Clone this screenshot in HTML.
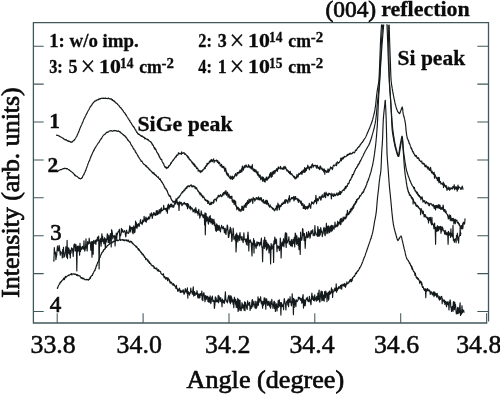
<!DOCTYPE html>
<html lang="en">
<head>
<meta charset="utf-8">
<title>(004) reflection</title>
<style>
html,body{margin:0;padding:0;background:#fff;}
body{width:500px;height:394px;overflow:hidden;font-family:'Liberation Serif', 'Times New Roman', serif;}
svg{display:block;}
svg text{font-family:'Liberation Serif', 'Times New Roman', serif;fill:#0b0b0b;stroke:#0b0b0b;stroke-width:0.4;}
svg text[font-weight=bold]{stroke-width:0.3;}
svg text.x{stroke-width:0.15;}
svg text.al{stroke-width:0.7;}
svg text.tl{stroke-width:0.5;}
.curves path{fill:none;stroke:#141a1b;stroke-width:1.15;stroke-linejoin:round;stroke-linecap:round;}
</style>
</head>
<body>
<svg width="500" height="394" viewBox="0 0 500 394">
<rect width="500" height="394" fill="#ffffff"/>
<g class="axes">
<path d="M33.4 323.0 L33.4 22.7 L488.5 22.7 L488.5 321.5 M32.8 323.0 L487.3 323.0" fill="none" stroke="#41585b" stroke-width="1.3"/>
<path d="M33.4 46.2 h10.3 M488.5 46.2 h-11.2 M33.4 84.1 h10.3 M488.5 84.1 h-11.2 M33.4 122.0 h10.3 M488.5 122.0 h-11.2 M33.4 159.9 h10.3 M488.5 159.9 h-11.2 M33.4 197.8 h10.3 M488.5 197.8 h-11.2 M33.4 235.7 h10.3 M488.5 235.7 h-11.2 M33.4 273.6 h10.3 M488.5 273.6 h-11.2 M33.4 311.5 h10.3 M488.5 311.5 h-11.2 M57.2 323.0 v-9.8 M143.1 323.0 v-9.8 M229.0 323.0 v-9.8 M314.8 323.0 v-9.8 M400.7 323.0 v-9.8 M486.6 323.0 v-9.8 " fill="none" stroke="#41585b" stroke-width="1.05"/>
</g>
<g class="curves">
<path d="M56.5 135.3 L56.9 135.1 L57.3 135.3 L57.7 135.5 L58.1 135.5 L58.5 135.8 L58.8 136.0 L59.2 135.8 L59.6 136.5 L60.0 136.6 L60.3 136.6 L60.7 136.9 L61.1 137.2 L61.4 137.3 L61.8 137.5 L62.1 137.5 L62.5 138.1 L62.9 138.3 L63.2 138.5 L63.6 138.4 L63.9 139.2 L64.3 139.2 L64.7 139.3 L65.0 139.9 L65.4 139.7 L65.8 139.6 L66.2 140.0 L66.6 139.9 L67.0 140.7 L67.4 140.6 L67.8 140.8 L68.2 141.3 L68.6 140.9 L69.0 141.5 L69.4 141.2 L69.8 141.6 L70.2 141.6 L70.6 142.2 L71.0 142.3 L71.3 141.9 L71.7 142.2 L72.0 141.9 L72.4 141.9 L72.7 141.4 L73.1 140.9 L73.4 140.6 L73.7 140.6 L74.0 140.7 L74.3 139.9 L74.6 139.4 L74.9 139.5 L75.1 138.9 L75.4 138.5 L75.6 138.2 L75.8 137.8 L76.0 137.4 L76.2 136.9 L76.4 136.9 L76.6 136.4 L76.8 136.3 L77.0 135.6 L77.2 134.9 L77.3 134.9 L77.5 134.9 L77.7 134.1 L77.9 133.6 L78.0 133.1 L78.2 132.8 L78.3 132.5 L78.5 131.9 L78.7 132.1 L78.8 131.3 L79.0 131.0 L79.1 130.9 L79.3 130.5 L79.4 129.7 L79.6 129.4 L79.8 129.1 L79.9 128.5 L80.1 127.8 L80.2 127.9 L80.4 127.5 L80.6 127.1 L80.8 126.4 L80.9 126.2 L81.1 125.7 L81.3 125.4 L81.4 125.3 L81.6 125.0 L81.8 124.4 L81.9 124.0 L82.1 123.6 L82.3 123.1 L82.4 122.7 L82.6 122.2 L82.8 121.9 L82.9 122.0 L83.1 121.4 L83.3 120.7 L83.4 120.3 L83.6 119.8 L83.8 119.7 L83.9 119.3 L84.1 118.6 L84.3 118.6 L84.5 118.0 L84.6 118.0 L84.8 117.4 L85.0 117.3 L85.2 116.5 L85.4 116.2 L85.6 115.9 L85.7 115.7 L85.9 115.2 L86.1 114.4 L86.3 114.4 L86.5 114.0 L86.7 113.5 L86.9 113.1 L87.1 113.2 L87.3 112.4 L87.5 111.9 L87.6 111.8 L87.8 111.3 L88.0 110.9 L88.2 110.7 L88.5 110.3 L88.7 109.9 L88.9 109.7 L89.1 109.2 L89.3 108.6 L89.5 108.3 L89.7 107.9 L89.9 107.7 L90.2 107.1 L90.4 106.6 L90.6 106.7 L90.9 106.0 L91.1 105.5 L91.4 105.7 L91.6 105.1 L91.9 105.0 L92.1 104.4 L92.4 103.9 L92.6 103.5 L92.9 103.3 L93.2 103.0 L93.4 102.6 L93.7 102.4 L94.0 101.8 L94.3 101.8 L94.6 101.1 L94.9 101.2 L95.2 101.2 L95.5 101.0 L95.9 101.0 L96.2 100.0 L96.5 100.4 L96.9 100.3 L97.3 100.1 L97.7 99.5 L98.0 99.6 L98.4 99.8 L98.9 98.8 L99.3 99.1 L99.7 99.1 L100.1 98.6 L100.5 98.8 L101.0 98.3 L101.4 98.3 L101.8 98.2 L102.2 98.4 L102.6 98.3 L103.1 98.5 L103.5 98.1 L103.9 98.3 L104.3 98.5 L104.7 98.5 L105.2 98.0 L105.6 98.5 L106.0 98.2 L106.5 98.5 L106.9 98.5 L107.3 98.7 L107.7 98.5 L108.1 98.0 L108.5 98.1 L108.9 98.7 L109.3 98.5 L109.7 98.9 L110.1 98.8 L110.5 98.7 L110.9 99.3 L111.2 99.0 L111.6 98.9 L112.0 100.2 L112.4 99.5 L112.7 100.4 L113.1 100.7 L113.4 100.8 L113.8 100.6 L114.1 101.6 L114.5 101.2 L114.8 101.5 L115.1 102.0 L115.4 102.5 L115.8 102.7 L116.1 103.1 L116.4 103.0 L116.7 103.4 L117.0 103.4 L117.3 103.9 L117.6 104.5 L117.9 104.5 L118.2 105.0 L118.5 105.1 L118.8 105.4 L119.0 105.9 L119.3 106.1 L119.6 106.7 L119.9 106.9 L120.2 107.6 L120.4 107.4 L120.7 107.7 L121.0 107.8 L121.2 108.4 L121.5 108.9 L121.8 108.9 L122.0 109.4 L122.3 109.9 L122.5 110.0 L122.8 110.3 L123.1 111.0 L123.3 111.1 L123.5 111.5 L123.8 112.1 L124.0 112.4 L124.3 112.4 L124.5 112.7 L124.8 113.2 L125.0 113.5 L125.2 113.3 L125.5 114.5 L125.7 114.6 L125.9 115.1 L126.2 114.9 L126.4 115.9 L126.6 115.8 L126.9 116.3 L127.1 116.3 L127.3 117.0 L127.5 117.3 L127.8 117.7 L128.0 118.2 L128.2 118.5 L128.4 119.1 L128.7 119.0 L128.9 119.2 L129.1 119.9 L129.3 120.4 L129.5 120.9 L129.8 121.2 L130.0 120.8 L130.2 121.7 L130.4 122.4 L130.7 122.4 L130.9 122.6 L131.1 123.1 L131.4 123.3 L131.6 123.9 L131.8 124.1 L132.0 124.9 L132.3 125.0 L132.5 125.0 L132.7 125.7 L132.9 126.2 L133.2 126.1 L133.4 126.5 L133.6 126.3 L133.9 127.6 L134.1 127.5 L134.3 127.4 L134.5 127.9 L134.8 128.7 L135.0 129.3 L135.2 129.5 L135.4 130.0 L135.6 129.9 L135.9 130.2 L136.1 131.2 L136.3 131.5 L136.5 131.7 L136.8 132.4 L137.0 132.1 L137.3 132.6 L137.5 133.3 L137.8 133.8 L138.1 133.6 L138.4 134.4 L138.7 133.9 L139.0 134.5 L139.3 134.6 L139.7 134.4 L140.0 135.2 L140.4 135.6 L140.7 135.5 L141.1 135.7 L141.5 136.4 L141.8 135.8 L142.2 135.9 L142.6 136.4 L143.0 136.5 L143.3 137.5 L143.7 137.4 L144.0 137.2 L144.4 137.6 L144.8 138.9 L145.1 138.0 L145.5 138.2 L145.9 138.7 L146.2 139.1 L146.6 139.2 L147.0 139.0 L147.3 139.1 L147.7 139.9 L148.1 139.9 L148.4 139.6 L148.8 140.8 L149.1 140.9 L149.4 140.8 L149.7 141.1 L150.0 141.5 L150.3 141.5 L150.6 141.5 L150.9 142.4 L151.1 142.1 L151.4 143.1 L151.6 142.8 L151.9 143.6 L152.1 143.9 L152.4 145.0 L152.6 144.3 L152.8 144.6 L153.0 145.2 L153.3 145.4 L153.5 146.0 L153.7 146.7 L153.9 147.2 L154.2 147.9 L154.4 147.3 L154.6 148.9 L154.8 149.1 L155.0 148.6 L155.2 148.2 L155.5 149.4 L155.7 149.8 L155.9 149.3 L156.1 150.5 L156.3 150.8 L156.5 151.0 L156.7 151.9 L156.9 152.4 L157.1 152.2 L157.3 152.8 L157.5 152.9 L157.7 153.2 L157.9 153.9 L158.1 154.4 L158.3 154.4 L158.5 154.1 L158.7 155.5 L158.9 155.1 L159.1 156.1 L159.3 157.1 L159.5 156.8 L159.7 156.7 L159.9 157.0 L160.1 158.3 L160.3 158.2 L160.5 158.8 L160.8 159.4 L161.0 159.3 L161.2 159.6 L161.4 159.7 L161.6 159.2 L161.8 160.2 L162.0 161.2 L162.2 161.5 L162.4 162.1 L162.7 162.2 L162.9 162.7 L163.1 163.4 L163.3 163.2 L163.5 163.9 L163.8 163.8 L164.0 165.3 L164.2 165.4 L164.5 166.0 L164.7 166.9 L164.9 167.1 L165.2 166.9 L165.4 167.6 L165.7 166.9 L165.9 167.9 L166.2 168.0 L166.4 167.3 L166.7 168.6 L167.0 167.6 L167.3 168.0 L167.6 167.3 L168.0 167.7 L168.3 167.5 L168.6 166.2 L169.0 165.5 L169.3 165.8 L169.6 165.8 L169.9 164.9 L170.2 164.5 L170.4 164.7 L170.7 162.9 L170.9 163.5 L171.2 162.8 L171.4 163.2 L171.6 162.4 L171.8 161.9 L172.0 161.9 L172.3 161.0 L172.5 161.3 L172.7 160.6 L172.9 160.4 L173.1 159.9 L173.4 160.3 L173.6 159.5 L173.9 159.4 L174.1 159.1 L174.4 158.1 L174.6 158.4 L174.9 157.9 L175.2 157.6 L175.5 156.8 L175.7 156.4 L176.0 156.7 L176.3 157.0 L176.6 155.2 L176.9 155.5 L177.2 154.8 L177.5 155.1 L177.8 154.7 L178.1 154.8 L178.5 152.7 L178.8 153.7 L179.2 153.4 L179.5 153.8 L180.0 153.4 L180.4 153.3 L180.8 153.9 L181.3 154.5 L181.7 151.9 L182.2 153.2 L182.6 153.5 L183.0 153.3 L183.4 153.1 L183.8 152.6 L184.2 152.8 L184.5 153.9 L184.8 154.3 L185.2 154.0 L185.5 153.8 L185.8 154.6 L186.1 154.8 L186.4 155.6 L186.7 155.7 L187.0 155.6 L187.3 156.4 L187.6 155.9 L187.8 157.4 L188.1 157.9 L188.4 156.9 L188.6 158.1 L188.9 157.7 L189.1 159.2 L189.4 159.4 L189.6 159.1 L189.9 160.2 L190.2 159.7 L190.4 159.9 L190.7 160.2 L190.9 160.8 L191.2 161.0 L191.5 161.7 L191.7 161.5 L192.0 162.7 L192.3 163.2 L192.5 162.6 L192.8 162.3 L193.1 164.0 L193.3 164.5 L193.6 164.1 L193.9 163.7 L194.1 165.0 L194.4 166.1 L194.7 164.3 L195.0 166.1 L195.2 165.9 L195.5 165.9 L195.8 167.0 L196.0 166.2 L196.3 167.6 L196.6 168.6 L196.9 168.3 L197.1 168.0 L197.4 167.9 L197.7 168.6 L197.9 168.6 L198.2 171.2 L198.5 170.4 L198.8 170.2 L199.0 170.3 L199.3 170.6 L199.6 171.2 L199.9 170.7 L200.3 172.6 L200.6 170.9 L201.0 170.7 L201.3 171.3 L201.7 171.8 L202.1 171.5 L202.5 169.9 L202.9 170.2 L203.2 169.8 L203.6 169.8 L203.9 169.3 L204.2 168.1 L204.5 167.6 L204.7 168.4 L205.0 167.0 L205.2 168.6 L205.4 167.2 L205.7 166.0 L205.9 166.2 L206.2 165.7 L206.4 165.6 L206.7 166.2 L206.9 163.9 L207.2 163.2 L207.5 164.7 L207.8 164.0 L208.0 163.9 L208.3 163.8 L208.6 163.0 L208.9 163.5 L209.2 161.7 L209.6 162.2 L209.9 161.2 L210.2 160.6 L210.5 162.0 L210.9 161.7 L211.2 159.3 L211.6 159.9 L212.0 161.0 L212.4 161.6 L212.8 159.8 L213.2 160.2 L213.6 158.9 L214.1 162.6 L214.5 160.5 L214.9 160.9 L215.3 160.7 L215.7 161.0 L216.0 160.7 L216.4 159.9 L216.7 161.2 L217.0 160.8 L217.4 162.3 L217.7 160.5 L218.0 161.0 L218.3 162.6 L218.6 163.7 L219.0 162.8 L219.3 162.2 L219.6 163.2 L219.9 163.1 L220.2 166.0 L220.5 165.2 L220.9 165.8 L221.2 165.1 L221.5 164.4 L221.8 166.6 L222.1 167.5 L222.4 166.5 L222.7 166.1 L223.0 167.7 L223.3 166.3 L223.6 168.0 L223.8 166.6 L224.0 166.6 L224.3 168.8 L224.5 168.9 L224.7 171.1 L224.9 168.8 L225.1 169.6 L225.3 168.5 L225.5 168.0 L225.7 168.5 L225.9 171.6 L226.1 170.0 L226.3 173.2 L226.6 173.9 L226.8 172.1 L227.1 175.0 L227.3 173.6 L227.5 175.2 L227.8 173.9 L228.0 175.8 L228.3 173.8 L228.5 176.3 L228.8 175.3 L229.0 176.1 L229.3 177.5 L229.6 177.2 L229.8 177.2 L230.1 178.5 L230.4 178.8 L230.7 176.1 L231.0 178.7 L231.3 178.9 L231.6 177.0 L231.9 178.4 L232.3 176.0 L232.6 179.4 L233.0 177.0 L233.4 177.0 L233.7 178.4 L234.1 176.3 L234.5 177.0 L234.9 174.5 L235.2 174.9 L235.6 173.5 L235.9 174.8 L236.2 176.2 L236.6 174.8 L236.9 175.4 L237.2 172.6 L237.5 172.5 L237.7 172.7 L238.0 173.8 L238.3 173.2 L238.6 172.4 L238.9 172.9 L239.2 171.5 L239.5 171.4 L239.7 172.8 L240.0 170.1 L240.3 170.8 L240.7 172.4 L241.0 170.2 L241.3 170.7 L241.6 168.7 L242.0 171.8 L242.3 166.0 L242.7 167.1 L243.0 167.0 L243.4 170.2 L243.8 168.3 L244.1 167.2 L244.5 165.7 L244.9 167.7 L245.2 167.2 L245.6 166.0 L246.0 164.9 L246.4 165.3 L246.8 167.1 L247.2 167.3 L247.6 167.0 L248.1 166.7 L248.5 164.7 L248.9 167.2 L249.3 165.8 L249.8 167.4 L250.2 168.0 L250.5 166.6 L250.9 166.3 L251.3 169.1 L251.6 168.5 L252.0 167.4 L252.3 164.5 L252.6 168.7 L253.0 169.9 L253.3 170.8 L253.6 168.8 L253.9 169.1 L254.2 169.7 L254.5 171.7 L254.9 169.3 L255.2 171.0 L255.5 170.2 L255.8 172.1 L256.1 170.0 L256.4 172.8 L256.7 171.9 L257.0 172.6 L257.3 173.9 L257.6 175.0 L257.9 171.6 L258.2 175.4 L258.4 175.2 L258.7 174.3 L259.0 176.9 L259.3 175.6 L259.6 177.3 L259.9 175.1 L260.2 175.1 L260.5 178.2 L260.8 179.8 L261.1 178.1 L261.4 178.8 L261.7 177.4 L262.0 176.7 L262.3 178.5 L262.6 181.1 L262.9 177.0 L263.2 179.1 L263.5 177.5 L263.8 180.4 L264.2 181.5 L264.5 178.8 L264.8 180.0 L265.1 182.2 L265.4 180.2 L265.7 178.5 L266.1 178.2 L266.4 177.0 L266.7 180.3 L267.1 178.0 L267.4 180.0 L267.7 179.4 L268.1 177.1 L268.4 176.9 L268.7 178.3 L269.0 177.2 L269.3 177.1 L269.6 174.2 L269.9 177.3 L270.2 174.7 L270.5 172.5 L270.8 174.4 L271.1 175.4 L271.4 177.3 L271.7 173.8 L272.0 172.2 L272.2 176.5 L272.5 173.6 L272.8 172.7 L273.1 171.3 L273.4 171.2 L273.8 174.2 L274.1 171.6 L274.4 171.0 L274.7 170.7 L275.0 173.1 L275.4 170.0 L275.7 171.3 L276.0 170.5 L276.4 170.2 L276.7 168.5 L277.1 170.2 L277.4 171.3 L277.8 168.9 L278.1 167.6 L278.5 166.9 L278.9 168.8 L279.3 168.1 L279.7 168.2 L280.1 168.3 L280.5 166.3 L281.0 169.2 L281.4 168.5 L281.8 168.0 L282.3 168.4 L282.7 169.3 L283.1 168.1 L283.5 166.9 L283.9 169.5 L284.3 167.4 L284.6 167.1 L285.0 166.2 L285.3 168.4 L285.7 167.3 L286.0 168.2 L286.3 169.8 L286.7 169.6 L287.0 171.2 L287.3 170.6 L287.6 170.0 L287.9 170.5 L288.2 170.6 L288.5 172.4 L288.9 171.9 L289.2 171.6 L289.5 173.6 L289.8 172.9 L290.1 172.4 L290.3 171.3 L290.6 174.2 L290.9 174.3 L291.2 174.3 L291.5 174.0 L291.8 173.7 L292.1 174.8 L292.5 175.7 L292.8 175.6 L293.1 175.9 L293.4 175.9 L293.8 177.3 L294.1 177.4 L294.4 176.4 L294.8 178.6 L295.1 178.8 L295.4 178.9 L295.8 177.6 L296.1 177.4 L296.4 176.0 L296.7 178.3 L297.0 174.3 L297.4 176.3 L297.7 176.0 L298.0 177.2 L298.3 175.8 L298.7 174.1 L299.0 173.2 L299.3 173.7 L299.6 174.5 L299.9 174.1 L300.2 173.5 L300.6 172.6 L300.9 172.9 L301.2 174.2 L301.5 171.2 L301.8 172.4 L302.1 174.2 L302.4 172.5 L302.7 170.8 L303.0 172.0 L303.3 169.9 L303.6 170.6 L303.9 172.4 L304.3 172.5 L304.6 167.5 L304.9 170.5 L305.3 171.9 L305.6 168.4 L306.0 169.2 L306.3 170.6 L306.7 167.7 L307.1 168.7 L307.4 167.8 L307.8 165.1 L308.2 167.9 L308.6 167.1 L309.0 168.4 L309.4 169.8 L309.8 167.8 L310.1 166.3 L310.5 167.4 L310.9 167.0 L311.4 168.0 L311.8 164.7 L312.2 165.1 L312.6 163.9 L313.1 167.3 L313.5 166.5 L313.9 165.6 L314.3 165.5 L314.8 165.7 L315.2 165.2 L315.6 166.0 L316.0 165.7 L316.4 168.2 L316.8 166.9 L317.2 165.4 L317.6 165.9 L318.0 168.4 L318.4 167.6 L318.8 167.6 L319.1 168.4 L319.5 169.7 L319.9 166.3 L320.3 167.1 L320.6 166.0 L321.0 169.2 L321.4 168.2 L321.8 168.0 L322.1 168.2 L322.5 170.3 L322.9 169.5 L323.3 169.3 L323.7 171.9 L324.0 169.1 L324.4 169.0 L324.8 174.3 L325.1 170.6 L325.5 170.6 L325.9 170.4 L326.2 171.3 L326.6 172.5 L326.9 172.5 L327.3 172.1 L327.6 170.8 L328.0 168.9 L328.3 171.0 L328.6 172.3 L329.0 171.4 L329.3 169.4 L329.6 170.4 L330.0 168.5 L330.3 168.7 L330.6 166.9 L331.0 167.9 L331.3 168.2 L331.7 167.6 L332.0 168.5 L332.3 169.6 L332.7 168.6 L333.0 166.4 L333.3 165.6 L333.7 165.5 L334.0 164.8 L334.3 165.8 L334.6 165.9 L335.0 165.4 L335.3 165.1 L335.6 164.8 L335.9 164.2 L336.2 163.2 L336.5 165.7 L336.8 164.6 L337.1 162.2 L337.4 161.9 L337.7 162.0 L338.0 162.4 L338.3 163.3 L338.7 162.8 L339.0 162.5 L339.3 162.3 L339.6 162.0 L339.9 161.3 L340.2 160.8 L340.5 159.9 L340.8 158.1 L341.1 159.3 L341.4 160.9 L341.7 158.4 L342.1 158.0 L342.4 159.2 L342.7 158.1 L343.0 157.3 L343.3 158.8 L343.6 157.7 L344.0 157.6 L344.3 156.2 L344.7 156.9 L345.0 156.6 L345.4 156.7 L345.7 156.8 L346.1 156.6 L346.5 155.6 L346.9 155.9 L347.3 154.3 L347.7 155.5 L348.0 155.3 L348.4 154.4 L348.8 154.0 L349.2 154.3 L349.6 153.4 L350.0 154.2 L350.4 154.0 L350.7 153.0 L351.1 153.5 L351.5 153.9 L351.9 153.7 L352.3 153.5 L352.7 152.6 L353.0 152.3 L353.4 152.1 L353.8 152.4 L354.1 153.1 L354.5 152.3 L354.8 152.2 L355.1 151.8 L355.4 150.1 L355.7 150.5 L356.0 150.0 L356.2 150.5 L356.5 150.3 L356.8 149.0 L357.0 148.9 L357.3 148.8 L357.5 148.0 L357.8 147.6 L358.1 147.3 L358.3 147.6 L358.6 146.6 L358.9 147.0 L359.1 146.3 L359.4 146.2 L359.7 146.1 L359.9 145.1 L360.2 144.7 L360.5 144.8 L360.7 144.0 L361.0 143.7 L361.3 143.6 L361.5 143.3 L361.8 142.6 L362.0 142.5 L362.3 142.4 L362.5 142.3 L362.8 141.2 L363.0 141.6 L363.2 141.1 L363.5 140.3 L363.7 139.9 L363.9 140.0 L364.1 139.4 L364.3 139.2 L364.6 138.9 L364.8 138.3 L365.0 138.1 L365.2 137.8 L365.4 137.4 L365.6 137.2 L365.8 136.8 L366.0 136.2 L366.1 135.8 L366.3 135.8 L366.5 135.2 L366.7 134.7 L366.9 134.1 L367.1 134.0 L367.2 133.4 L367.4 133.1 L367.6 132.5 L367.8 132.3 L367.9 132.0 L368.1 131.4 L368.3 131.1 L368.4 130.8 L368.6 130.2 L368.8 129.9 L368.9 129.5 L369.1 129.1 L369.2 129.0 L369.4 128.3 L369.6 128.3 L369.7 127.9 L369.9 127.1 L370.0 127.0 L370.2 126.5 L370.3 126.0 L370.5 125.7 L370.6 125.3 L370.8 125.1 L370.9 124.8 L371.1 124.0 L371.2 123.7 L371.4 123.5 L371.5 123.2 L371.7 122.2 L371.8 122.4 L371.9 121.8 L372.1 121.7 L372.2 120.9 L372.3 120.5 L372.4 120.2 L372.6 120.0 L372.7 119.4 L372.8 118.6 L372.9 118.7 L373.0 117.9 L373.1 117.6 L373.2 117.2 L373.3 116.7 L373.4 116.4 L373.5 116.0 L373.6 115.7 L373.7 115.3 L373.8 114.9 L373.9 114.3 L374.0 114.1 L374.1 113.9 L374.2 113.5 L374.3 112.9 L374.4 112.6 L374.5 112.2 L374.6 111.9 L374.6 111.5 L374.7 110.8 L374.8 110.4 L374.9 110.3 L374.9 109.9 L375.0 109.4 L375.1 108.3 L375.1 108.3 L375.2 107.3 L375.3 107.6 L375.3 107.1 L375.4 106.7 L375.4 106.2 L375.5 106.1 L375.6 105.4 L375.6 105.2 L375.7 104.7 L375.7 104.2 L375.8 103.8 L375.8 103.4 L375.8 102.7 L375.9 102.6 L375.9 102.2 L376.0 101.6 L376.0 101.4 L376.1 101.0 L376.1 100.2 L376.1 100.0 L376.2 99.5 L376.2 99.0 L376.3 98.8 L376.3 98.2 L376.4 97.8 L376.4 97.5 L376.4 97.1 L376.5 96.7 L376.5 96.6 L376.6 95.7 L376.6 95.4 L376.7 94.8 L376.7 94.6 L376.8 94.3 L376.8 93.9 L376.9 93.2 L376.9 92.8 L377.0 92.7 L377.0 92.0 L377.1 91.8 L377.1 91.0 L377.2 91.1 L377.3 90.6 L377.3 90.1 L377.4 89.4 L377.5 89.1 L377.6 88.8 L377.6 88.4 L377.7 87.9 L377.8 87.4 L377.9 87.1 L377.9 86.9 L378.0 85.9 L378.1 85.6 L378.2 85.1 L378.2 84.9 L378.3 84.3 L378.4 84.3 L378.4 83.8 L378.5 83.3 L378.6 82.8 L378.6 82.5 L378.7 82.1 L378.7 81.7 L378.8 81.1 L378.8 81.0 L378.9 80.2 L378.9 80.2 L378.9 79.0 L379.0 79.1 L379.0 78.5 L379.0 78.5 L379.0 77.6 L379.1 77.8 L379.1 76.8 L379.1 77.0 L379.1 76.3 L379.2 75.8 L379.2 75.5 L379.2 75.4 L379.2 74.7 L379.2 73.7 L379.3 73.9 L379.3 73.3 L379.3 72.6 L379.3 72.6 L379.3 71.8 L379.4 71.7 L379.4 71.2 L379.4 70.7 L379.4 70.5 L379.4 69.8 L379.4 69.6 L379.5 69.0 L379.5 68.6 L379.5 68.6 L379.5 67.9 L379.5 67.2 L379.5 67.0 L379.6 66.4 L379.6 66.2 L379.6 65.8 L379.6 65.3 L379.6 64.9 L379.6 64.4 L379.6 64.1 L379.7 63.8 L379.7 63.1 L379.7 62.8 L379.7 62.4 L379.7 62.2 L379.7 61.7 L379.8 61.0 L379.8 60.7 L379.8 60.0 L379.8 59.7 L379.8 59.4 L379.8 59.1 L379.9 58.8 L379.9 58.1 L379.9 57.5 L379.9 57.4 L379.9 56.9 L379.9 56.6 L380.0 56.1 L380.0 55.8 L380.0 55.3 L380.0 55.0 L380.0 54.3 L380.0 54.2 L380.1 53.5 L380.1 53.1 L380.1 53.1 L380.1 52.4 L380.1 51.6 L380.1 51.7 L380.1 51.2 L380.2 50.8 L380.2 50.2 L380.2 49.8 L380.2 49.3 L380.2 48.8 L380.2 48.8 L380.3 48.0 L380.3 47.6 L380.3 47.2 L380.3 47.2 L380.3 46.6 L380.3 45.9 L380.4 45.6 L380.4 45.2 L380.4 44.9 L380.4 44.0 L380.4 44.1 L380.4 43.4 L380.5 42.9 L380.5 42.6 L380.5 42.4 L380.5 42.1 L380.5 41.4 L380.6 41.0 L380.6 40.4 L380.6 40.2 L380.6 39.8 L380.6 39.0 L380.7 38.8 L380.7 38.6 L380.7 37.7 L380.7 37.5 L380.7 37.3 L380.8 36.4 L380.8 36.3 L380.8 35.9 L380.8 35.7 L380.9 34.8 L380.9 34.9 L380.9 34.3 L380.9 34.0 L381.0 33.6 L381.0 33.0 L381.0 32.6 L381.0 31.8 L381.1 31.5 L381.1 31.1 L381.1 30.8 L381.1 30.6 L381.2 29.7 L381.2 29.6 L381.2 28.9 L381.2 28.5 L381.3 28.6 L381.3 28.0 L381.3 27.8 L381.4 27.3 L381.4 26.5 L381.4 25.9 L381.4 26.2 L381.5 25.3 L381.5 24.8"/>
<path d="M389.2 25.1 L389.2 25.4 L389.2 25.7 L389.2 26.2 L389.2 26.7 L389.2 27.1 L389.3 27.7 L389.3 27.9 L389.3 28.3 L389.3 28.9 L389.3 29.3 L389.3 29.8 L389.3 30.0 L389.3 30.5 L389.3 30.7 L389.4 31.6 L389.4 31.5 L389.4 32.2 L389.4 32.4 L389.4 33.1 L389.4 33.6 L389.4 33.5 L389.4 34.2 L389.4 34.3 L389.5 35.4 L389.5 35.4 L389.5 35.6 L389.5 36.2 L389.5 37.0 L389.5 37.5 L389.5 37.9 L389.5 37.9 L389.6 38.4 L389.6 39.2 L389.6 39.2 L389.6 39.7 L389.6 40.0 L389.6 40.3 L389.6 41.2 L389.6 41.5 L389.7 41.9 L389.7 42.4 L389.7 42.9 L389.7 43.4 L389.7 43.5 L389.7 43.9 L389.7 44.2 L389.8 45.0 L389.8 45.1 L389.8 45.3 L389.8 46.0 L389.8 46.5 L389.8 47.0 L389.8 47.5 L389.9 47.6 L389.9 48.0 L389.9 48.5 L389.9 48.7 L389.9 49.4 L389.9 49.9 L389.9 50.3 L390.0 50.3 L390.0 50.9 L390.0 51.8 L390.0 51.7 L390.0 52.5 L390.0 52.9 L390.0 53.1 L390.1 53.4 L390.1 54.1 L390.1 54.3 L390.1 54.8 L390.1 55.3 L390.1 55.6 L390.2 56.1 L390.2 56.5 L390.2 56.7 L390.2 57.4 L390.2 57.7 L390.2 57.9 L390.3 58.6 L390.3 59.0 L390.3 59.4 L390.3 59.5 L390.3 60.5 L390.3 60.9 L390.3 61.3 L390.4 61.7 L390.4 61.8 L390.4 62.5 L390.4 62.7 L390.4 63.7 L390.4 63.6 L390.4 64.3 L390.5 64.2 L390.5 64.7 L390.5 65.3 L390.5 66.0 L390.5 66.4 L390.5 66.7 L390.5 66.7 L390.5 67.7 L390.6 67.7 L390.6 68.7 L390.6 69.1 L390.6 69.4 L390.6 69.8 L390.6 69.8 L390.6 71.0 L390.7 70.9 L390.7 71.5 L390.7 71.5 L390.7 72.1 L390.7 72.3 L390.7 72.9 L390.8 73.4 L390.8 73.9 L390.8 74.5 L390.8 74.8 L390.8 75.1 L390.8 75.5 L390.9 76.3 L390.9 76.2 L390.9 77.0 L390.9 76.8 L391.0 77.4 L391.0 78.1 L391.0 78.4 L391.0 79.5 L391.1 79.8 L391.1 79.4 L391.1 79.9 L391.1 80.5 L391.2 81.3 L391.2 81.6 L391.3 81.9 L391.3 81.9 L391.3 82.5 L391.4 82.5 L391.4 83.1 L391.5 84.0 L391.6 84.5 L391.6 84.4 L391.7 85.1 L391.7 85.9 L391.8 86.0 L391.9 86.3 L392.0 86.9 L392.0 87.3 L392.1 87.6 L392.2 87.9 L392.2 88.4 L392.3 88.9 L392.4 89.2 L392.5 90.0 L392.5 90.3 L392.6 90.8 L392.7 91.4 L392.8 91.7 L392.8 92.1 L392.9 92.3 L393.0 92.6 L393.0 93.5 L393.1 93.3 L393.2 93.7 L393.3 94.1 L393.3 94.7 L393.4 95.2 L393.5 95.7 L393.6 95.9 L393.6 96.0 L393.7 96.8 L393.8 97.4 L393.9 97.6 L394.0 98.0 L394.0 98.5 L394.1 99.1 L394.2 99.2 L394.3 99.4 L394.4 99.9 L394.5 100.4 L394.6 100.5 L394.7 101.5 L394.7 101.5 L394.8 102.2 L394.9 102.6 L395.0 102.9 L395.1 103.7 L395.2 103.6 L395.3 104.0 L395.4 104.6 L395.5 105.1 L395.6 105.4 L395.8 105.6 L395.9 106.4 L396.0 106.8 L396.1 107.5 L396.2 107.4 L396.3 108.0 L396.4 108.2 L396.6 108.4 L396.7 109.2 L396.8 109.7 L397.0 109.7 L397.1 110.2 L397.3 110.4 L397.5 111.3 L397.6 111.3 L397.8 111.9 L398.1 111.9 L398.4 112.5 L398.7 112.8 L399.1 112.7 L399.4 113.4 L399.6 113.6 L399.8 113.0 L400.0 113.1 L400.2 112.7 L400.3 112.1 L400.4 111.8 L400.6 110.9 L400.7 110.9 L400.9 110.6 L401.0 109.7 L401.2 109.5 L401.4 109.3 L401.5 108.5 L401.7 107.9 L401.8 107.4 L402.0 107.3 L402.1 107.2 L402.2 107.4 L402.3 107.1 L402.4 107.8 L402.5 107.8 L402.5 108.4 L402.6 108.5 L402.7 108.8 L402.7 109.5 L402.8 109.9 L402.8 110.6 L402.9 111.4 L403.0 112.0 L403.0 112.4 L403.1 112.7 L403.2 113.3 L403.2 114.0 L403.3 114.5 L403.4 114.6 L403.5 115.0 L403.6 115.3 L403.7 115.9 L403.8 116.5 L403.9 116.1 L404.0 117.2 L404.2 117.4 L404.3 117.4 L404.4 118.4 L404.5 118.7 L404.6 119.2 L404.7 119.3 L404.8 120.4 L404.9 120.4 L405.0 120.7 L405.0 121.5 L405.1 121.8 L405.2 122.2 L405.2 122.7 L405.3 122.4 L405.4 123.7 L405.4 123.6 L405.5 124.2 L405.5 124.7 L405.6 124.8 L405.6 125.4 L405.7 126.0 L405.7 126.2 L405.7 126.8 L405.8 126.7 L405.8 127.2 L405.9 127.6 L405.9 128.4 L405.9 129.7 L406.0 129.2 L406.0 129.5 L406.1 130.0 L406.1 130.7 L406.1 131.0 L406.2 131.0 L406.2 131.9 L406.3 132.1 L406.3 132.7 L406.4 132.4 L406.4 132.9 L406.5 133.9 L406.5 133.7 L406.6 134.7 L406.7 135.1 L406.7 135.5 L406.8 135.9 L406.9 136.3 L407.0 136.8 L407.1 136.9 L407.2 137.4 L407.3 138.7 L407.5 138.6 L407.6 138.8 L407.8 139.2 L407.9 139.2 L408.0 139.9 L408.2 140.2 L408.3 141.0 L408.5 140.7 L408.6 140.6 L408.8 141.6 L408.9 142.5 L409.1 143.5 L409.2 143.4 L409.4 143.0 L409.5 143.7 L409.7 143.8 L409.8 144.5 L410.0 144.6 L410.1 144.7 L410.3 145.9 L410.4 146.2 L410.6 146.5 L410.8 147.1 L410.9 148.2 L411.1 147.7 L411.3 147.9 L411.4 148.8 L411.6 148.1 L411.8 149.6 L411.9 149.3 L412.1 149.6 L412.3 150.4 L412.5 151.6 L412.6 150.8 L412.8 152.0 L413.0 152.1 L413.2 151.6 L413.4 153.2 L413.6 152.7 L413.8 152.7 L414.0 153.4 L414.2 153.8 L414.4 154.8 L414.6 154.4 L414.9 156.0 L415.1 155.6 L415.4 155.4 L415.7 155.7 L415.9 156.6 L416.2 155.6 L416.5 155.8 L416.8 156.9 L417.1 158.1 L417.4 158.2 L417.7 158.4 L418.0 158.5 L418.3 157.5 L418.6 159.0 L418.9 158.3 L419.2 160.4 L419.5 160.1 L419.8 160.3 L420.1 161.0 L420.4 161.2 L420.7 161.4 L421.1 161.8 L421.4 161.3 L421.7 161.0 L422.0 162.6 L422.3 163.8 L422.7 163.7 L423.0 163.0 L423.3 163.9 L423.6 163.3 L423.9 164.3 L424.3 163.7 L424.6 164.7 L424.9 166.7 L425.2 165.8 L425.5 166.8 L425.8 165.0 L426.1 165.3 L426.4 166.2 L426.7 167.1 L427.0 166.6 L427.4 168.1 L427.7 166.9 L428.0 169.1 L428.3 169.0 L428.6 167.1 L428.9 169.2 L429.1 168.7 L429.4 170.3 L429.7 168.9 L430.0 170.2 L430.3 170.7 L430.5 167.4 L430.8 168.7 L431.1 171.3 L431.3 171.3 L431.6 172.9 L431.9 172.4 L432.1 171.0 L432.4 173.2 L432.6 172.2 L432.9 173.2 L433.1 173.2 L433.4 174.5 L433.7 172.7 L433.9 173.4 L434.2 172.3 L434.5 178.1 L434.7 174.5 L435.0 175.0 L435.3 174.9 L435.5 175.9 L435.8 176.5 L436.1 178.2 L436.3 177.9 L436.6 178.5 L436.9 177.6 L437.1 178.6 L437.4 180.7 L437.7 179.3 L438.0 180.1 L438.2 177.2 L438.5 181.1 L438.8 181.0 L439.0 182.8 L439.3 177.4 L439.6 181.7 L439.9 181.8 L440.2 182.4 L440.5 181.6 L440.7 183.2 L441.0 184.2 L441.3 183.5 L441.6 183.3 L441.9 183.7 L442.2 183.7 L442.6 184.6 L442.9 183.7 L443.2 182.0 L443.5 187.5 L443.8 183.0 L444.2 185.8 L444.5 184.3 L444.8 186.2 L445.2 185.4 L445.5 187.2 L445.9 186.1 L446.2 185.6 L446.6 188.5 L447.0 190.4 L447.3 189.0 L447.7 188.7 L448.1 186.9 L448.4 188.6 L448.8 189.5 L449.2 187.6 L449.6 190.3 L450.0 188.6 L450.4 189.2 L450.8 187.7 L451.2 187.6 L451.6 188.8 L452.1 189.0 L452.5 188.9 L452.9 186.4 L453.4 186.8 L453.8 188.0 L454.2 184.7 L454.6 189.7 L455.1 188.4 L455.5 187.9 L455.9 186.5 L456.3 189.2 L456.8 187.2 L457.2 191.1 L457.6 188.4 L458.0 185.1 L458.4 189.1 L458.8 186.9 L459.3 187.0 L459.7 187.5 L460.1 187.8 L460.5 188.5 L460.9 189.5 L461.3 189.1 L461.8 187.1 L462.2 186.1 L462.6 187.2 L463.0 189.3"/>
<path d="M57.3 171.6 L57.7 171.6 L58.0 170.8 L58.4 170.8 L58.7 170.5 L59.1 170.3 L59.5 170.2 L59.9 169.9 L60.2 169.7 L60.6 169.5 L61.0 169.6 L61.4 169.6 L61.8 169.5 L62.2 169.0 L62.6 168.8 L63.0 168.8 L63.5 168.6 L63.9 168.8 L64.3 168.4 L64.7 168.5 L65.1 168.2 L65.5 168.4 L65.9 168.6 L66.3 168.9 L66.7 168.6 L67.1 169.0 L67.5 168.7 L67.9 169.1 L68.3 169.4 L68.6 169.7 L69.0 170.1 L69.4 170.3 L69.7 170.1 L70.1 170.7 L70.4 170.7 L70.8 171.5 L71.1 171.4 L71.4 171.7 L71.8 171.9 L72.1 172.2 L72.4 172.4 L72.7 172.6 L73.0 173.1 L73.3 173.3 L73.6 173.8 L73.9 173.9 L74.2 174.4 L74.5 174.4 L74.8 175.6 L75.1 175.0 L75.4 175.4 L75.7 175.9 L76.0 176.2 L76.3 176.1 L76.7 176.2 L77.1 176.5 L77.5 176.8 L77.9 177.2 L78.3 177.5 L78.6 178.0 L79.0 178.3 L79.4 178.1 L79.8 178.5 L80.1 178.7 L80.5 178.9 L80.8 178.6 L81.1 178.4 L81.3 178.5 L81.6 178.4 L81.9 177.7 L82.1 177.9 L82.4 177.5 L82.6 176.6 L82.9 175.9 L83.1 175.7 L83.3 175.3 L83.5 175.0 L83.8 174.1 L84.0 174.6 L84.2 174.2 L84.3 173.2 L84.5 172.6 L84.7 172.6 L84.9 172.3 L85.1 172.1 L85.2 171.6 L85.4 171.0 L85.5 170.3 L85.7 170.4 L85.9 170.1 L86.0 169.4 L86.2 169.2 L86.3 168.8 L86.4 168.3 L86.6 167.7 L86.7 167.6 L86.9 166.8 L87.0 167.0 L87.2 166.1 L87.3 166.0 L87.5 165.4 L87.6 165.2 L87.7 164.7 L87.9 164.4 L88.0 163.8 L88.2 163.2 L88.3 163.1 L88.5 162.7 L88.6 162.0 L88.8 161.8 L89.0 161.2 L89.1 161.2 L89.3 160.7 L89.4 160.4 L89.6 160.6 L89.8 159.7 L89.9 159.3 L90.1 159.0 L90.2 158.4 L90.4 157.9 L90.6 157.9 L90.7 157.5 L90.9 156.2 L91.0 156.5 L91.2 156.0 L91.4 155.6 L91.5 155.6 L91.7 154.8 L91.9 154.7 L92.0 154.0 L92.2 153.7 L92.4 153.6 L92.5 152.8 L92.7 152.6 L92.9 152.0 L93.1 151.7 L93.2 151.7 L93.4 151.2 L93.6 150.5 L93.8 150.1 L94.0 150.6 L94.2 149.5 L94.4 149.1 L94.6 149.0 L94.8 148.4 L95.0 148.1 L95.2 148.0 L95.4 147.7 L95.6 147.0 L95.9 147.0 L96.1 146.3 L96.3 146.0 L96.5 145.7 L96.8 145.2 L97.0 145.1 L97.2 144.7 L97.5 144.1 L97.7 143.9 L97.9 143.4 L98.2 143.1 L98.4 142.8 L98.7 142.7 L98.9 142.2 L99.1 142.1 L99.4 141.8 L99.6 141.1 L99.8 140.6 L100.1 140.2 L100.3 140.1 L100.5 139.8 L100.8 139.6 L101.0 138.6 L101.2 138.8 L101.5 138.4 L101.7 138.4 L102.0 137.5 L102.2 137.1 L102.5 136.4 L102.7 136.2 L103.0 135.8 L103.2 135.5 L103.5 135.2 L103.8 134.8 L104.0 134.8 L104.3 134.7 L104.6 134.5 L104.9 134.0 L105.2 134.1 L105.6 133.8 L105.9 132.9 L106.2 132.9 L106.6 132.4 L106.9 132.2 L107.3 132.3 L107.7 131.9 L108.1 132.1 L108.5 132.0 L108.9 131.4 L109.2 131.1 L109.6 131.0 L110.0 130.9 L110.4 131.0 L110.8 130.6 L111.2 130.9 L111.6 130.7 L112.1 131.1 L112.5 131.1 L112.9 131.2 L113.3 130.8 L113.8 130.5 L114.2 130.4 L114.6 130.8 L115.1 130.5 L115.5 130.5 L115.9 130.8 L116.3 130.7 L116.7 131.1 L117.1 131.5 L117.5 131.0 L117.9 131.2 L118.3 130.9 L118.7 131.5 L119.1 131.4 L119.4 131.5 L119.8 131.6 L120.2 132.7 L120.5 132.1 L120.9 132.5 L121.3 133.1 L121.6 133.4 L121.9 133.7 L122.3 133.9 L122.6 133.9 L122.9 134.6 L123.2 134.7 L123.6 134.6 L123.9 135.7 L124.2 135.4 L124.5 136.0 L124.8 135.7 L125.1 136.1 L125.3 136.5 L125.6 136.8 L125.9 137.6 L126.2 137.2 L126.5 138.0 L126.7 138.0 L127.0 138.8 L127.3 139.0 L127.5 139.2 L127.8 140.3 L128.0 140.0 L128.3 140.6 L128.6 140.3 L128.8 141.0 L129.1 141.4 L129.3 141.8 L129.6 142.0 L129.8 142.2 L130.0 141.9 L130.3 142.9 L130.5 143.2 L130.7 143.7 L131.0 144.4 L131.2 145.1 L131.4 145.0 L131.6 145.5 L131.8 145.7 L132.1 146.1 L132.3 146.5 L132.5 146.6 L132.7 146.9 L132.9 147.5 L133.1 148.3 L133.3 148.3 L133.5 149.0 L133.7 148.5 L134.0 149.3 L134.2 149.7 L134.4 150.1 L134.6 149.9 L134.8 150.1 L135.0 150.4 L135.2 151.3 L135.5 152.4 L135.7 152.2 L135.9 152.1 L136.1 152.9 L136.3 153.1 L136.6 153.6 L136.8 153.8 L137.0 153.9 L137.2 154.5 L137.4 155.2 L137.7 155.4 L137.9 156.1 L138.1 155.7 L138.3 156.8 L138.5 156.8 L138.8 157.2 L139.0 157.9 L139.2 157.8 L139.5 158.3 L139.7 158.7 L139.9 159.1 L140.2 159.5 L140.4 160.0 L140.6 160.1 L140.9 160.1 L141.1 161.4 L141.4 161.0 L141.6 161.4 L141.9 161.4 L142.2 161.3 L142.4 162.0 L142.7 162.6 L143.0 163.1 L143.3 163.2 L143.5 163.8 L143.8 164.2 L144.1 164.5 L144.4 164.4 L144.7 164.8 L145.0 165.0 L145.3 165.1 L145.6 166.1 L145.9 165.5 L146.2 166.2 L146.5 166.6 L146.8 166.1 L147.1 167.4 L147.4 167.3 L147.7 167.8 L148.0 167.9 L148.3 167.8 L148.6 168.7 L148.9 168.9 L149.2 169.5 L149.5 169.6 L149.8 169.2 L150.1 170.4 L150.4 170.6 L150.7 170.9 L151.0 171.1 L151.3 171.0 L151.6 171.7 L152.0 171.7 L152.3 173.1 L152.6 172.3 L152.9 172.3 L153.2 172.8 L153.5 173.7 L153.8 173.3 L154.1 172.9 L154.4 174.6 L154.7 174.5 L155.1 174.5 L155.4 175.2 L155.7 174.9 L156.0 175.1 L156.3 176.1 L156.6 175.9 L156.9 176.6 L157.2 176.7 L157.5 177.2 L157.8 177.3 L158.2 176.7 L158.5 178.1 L158.8 177.9 L159.1 178.7 L159.4 178.7 L159.6 179.5 L159.9 179.2 L160.2 178.8 L160.5 179.8 L160.7 180.5 L160.9 180.5 L161.2 180.8 L161.4 181.9 L161.6 181.6 L161.8 182.5 L162.0 182.5 L162.2 182.2 L162.5 182.8 L162.7 183.4 L162.9 184.0 L163.1 183.9 L163.3 184.1 L163.5 184.6 L163.7 185.1 L163.9 185.4 L164.1 185.8 L164.3 187.2 L164.5 186.9 L164.7 186.8 L164.9 187.5 L165.1 188.6 L165.4 188.6 L165.6 188.6 L165.8 188.4 L166.0 188.7 L166.2 189.6 L166.4 190.1 L166.6 189.8 L166.8 190.3 L167.0 191.2 L167.2 190.6 L167.4 191.2 L167.6 192.3 L167.8 192.9 L168.0 193.2 L168.2 193.9 L168.4 194.5 L168.6 194.6 L168.8 194.4 L169.0 195.9 L169.2 196.0 L169.5 196.1 L169.7 195.6 L169.9 196.5 L170.1 195.8 L170.3 197.0 L170.6 196.4 L170.8 197.8 L171.0 198.9 L171.3 198.9 L171.5 200.1 L171.7 199.8 L172.0 200.2 L172.2 200.4 L172.5 201.2 L172.7 201.2 L173.0 202.0 L173.2 202.4 L173.5 201.9 L173.8 201.2 L174.1 201.9 L174.4 202.1 L174.7 201.6 L175.1 201.1 L175.4 201.1 L175.8 201.0 L176.1 198.7 L176.4 200.4 L176.8 199.7 L177.1 199.2 L177.4 198.4 L177.6 198.5 L177.9 198.4 L178.2 197.0 L178.5 197.8 L178.7 197.1 L179.0 197.5 L179.3 196.8 L179.5 196.0 L179.8 195.8 L180.1 195.8 L180.3 195.2 L180.6 195.1 L180.9 194.1 L181.1 193.5 L181.4 193.5 L181.7 192.7 L181.9 192.7 L182.2 193.0 L182.4 191.6 L182.7 191.5 L183.0 192.2 L183.2 191.2 L183.5 191.2 L183.8 190.2 L184.0 190.0 L184.3 190.1 L184.6 190.8 L184.9 189.8 L185.2 188.3 L185.4 189.1 L185.7 189.0 L186.0 188.5 L186.3 187.1 L186.6 187.4 L186.9 188.3 L187.2 186.3 L187.5 186.8 L187.8 186.1 L188.2 185.7 L188.5 186.1 L188.9 186.8 L189.3 186.8 L189.8 185.6 L190.2 185.8 L190.7 185.5 L191.1 184.7 L191.6 186.3 L192.0 186.8 L192.4 186.8 L192.8 185.6 L193.2 186.7 L193.5 186.6 L193.8 185.9 L194.2 186.3 L194.5 186.3 L194.8 187.0 L195.1 188.3 L195.4 187.0 L195.7 187.2 L196.0 188.9 L196.3 188.7 L196.6 187.8 L196.9 188.7 L197.1 189.2 L197.4 189.6 L197.7 190.5 L198.0 191.3 L198.2 190.9 L198.5 191.4 L198.7 191.2 L199.0 192.6 L199.3 193.2 L199.5 192.5 L199.8 192.5 L200.0 194.7 L200.3 194.3 L200.5 193.4 L200.8 193.2 L201.1 194.4 L201.3 195.8 L201.6 194.9 L201.9 195.4 L202.2 195.6 L202.4 196.7 L202.7 197.6 L203.0 195.9 L203.3 197.0 L203.6 197.4 L203.8 197.3 L204.1 197.2 L204.4 199.1 L204.7 198.9 L205.0 199.6 L205.3 200.6 L205.6 199.4 L205.9 200.4 L206.2 200.0 L206.5 200.6 L206.8 201.3 L207.1 201.3 L207.4 200.4 L207.8 203.5 L208.1 202.6 L208.4 201.7 L208.7 201.0 L209.0 203.3 L209.4 204.1 L209.7 204.6 L210.0 204.8 L210.3 203.4 L210.7 204.4 L211.0 202.1 L211.3 203.6 L211.7 204.2 L212.0 202.4 L212.3 202.6 L212.7 202.5 L213.0 202.2 L213.3 203.3 L213.7 200.3 L214.0 202.5 L214.3 199.4 L214.7 199.7 L215.0 199.3 L215.3 199.7 L215.6 199.0 L215.9 199.8 L216.2 198.9 L216.4 201.1 L216.7 198.7 L217.0 197.6 L217.3 198.0 L217.6 198.0 L217.9 196.7 L218.2 195.3 L218.5 195.4 L218.8 196.3 L219.1 196.9 L219.4 196.3 L219.8 195.4 L220.2 196.0 L220.5 194.5 L220.9 195.3 L221.3 196.6 L221.7 196.0 L222.2 196.2 L222.6 193.8 L223.0 194.4 L223.4 192.6 L223.8 195.1 L224.2 193.2 L224.6 191.9 L225.0 192.9 L225.4 194.0 L225.8 190.5 L226.2 191.7 L226.5 195.3 L226.9 194.2 L227.2 194.2 L227.6 192.2 L228.0 197.2 L228.3 196.6 L228.6 196.5 L229.0 194.1 L229.3 196.9 L229.6 198.1 L229.9 196.2 L230.2 196.6 L230.5 196.5 L230.8 198.5 L231.1 197.5 L231.3 197.7 L231.6 196.2 L231.9 196.3 L232.1 200.6 L232.4 201.9 L232.6 201.2 L232.9 202.4 L233.1 199.7 L233.4 200.8 L233.6 201.8 L233.9 201.3 L234.1 204.5 L234.4 200.2 L234.6 201.7 L234.9 202.4 L235.1 202.2 L235.4 204.9 L235.6 201.0 L235.9 206.2 L236.1 206.2 L236.4 205.8 L236.6 207.9 L236.9 209.8 L237.1 206.9 L237.4 208.2 L237.6 208.1 L237.9 208.7 L238.1 207.5 L238.4 207.5 L238.6 209.9 L238.9 208.4 L239.2 210.9 L239.4 210.9 L239.7 209.1 L240.0 210.5 L240.3 210.1 L240.6 209.7 L240.9 211.6 L241.2 209.7 L241.5 209.8 L241.9 206.2 L242.2 209.9 L242.5 206.4 L242.9 207.7 L243.2 210.4 L243.6 210.3 L243.9 206.6 L244.2 205.0 L244.6 207.2 L244.9 205.7 L245.2 206.5 L245.5 203.6 L245.8 207.1 L246.1 207.5 L246.4 202.6 L246.7 203.3 L246.9 203.1 L247.2 205.0 L247.5 200.5 L247.8 203.5 L248.1 202.5 L248.4 201.4 L248.7 203.4 L249.0 199.0 L249.3 199.6 L249.6 200.3 L249.9 202.3 L250.3 200.4 L250.6 199.4 L251.0 201.2 L251.3 199.5 L251.7 198.9 L252.1 199.2 L252.4 200.0 L252.8 203.4 L253.2 197.4 L253.6 199.3 L254.0 198.6 L254.4 198.4 L254.8 201.1 L255.2 200.0 L255.6 199.8 L256.0 198.1 L256.4 197.5 L256.9 199.2 L257.3 198.4 L257.7 197.9 L258.2 199.8 L258.6 196.9 L259.0 197.7 L259.5 200.0 L259.9 198.7 L260.3 199.8 L260.7 197.5 L261.0 199.9 L261.4 197.9 L261.8 201.2 L262.1 200.5 L262.5 200.3 L262.8 202.2 L263.2 200.7 L263.5 199.5 L263.9 203.1 L264.2 201.6 L264.5 203.2 L264.9 201.9 L265.2 203.7 L265.5 200.8 L265.9 200.4 L266.2 200.5 L266.5 204.1 L266.9 200.2 L267.2 200.7 L267.5 201.5 L267.8 204.4 L268.2 204.9 L268.5 203.3 L268.8 206.0 L269.1 205.6 L269.5 207.2 L269.8 207.0 L270.1 204.8 L270.5 206.4 L270.8 206.2 L271.2 207.4 L271.5 207.3 L271.9 207.4 L272.2 208.7 L272.6 208.0 L272.9 209.3 L273.3 208.5 L273.6 208.4 L274.0 210.3 L274.3 210.4 L274.7 210.9 L275.0 210.0 L275.4 208.7 L275.7 209.2 L276.1 209.0 L276.4 205.8 L276.8 206.6 L277.1 210.4 L277.5 207.7 L277.9 203.1 L278.2 207.0 L278.6 207.1 L278.9 204.7 L279.3 209.8 L279.6 207.8 L280.0 207.0 L280.3 205.2 L280.7 206.0 L281.0 206.3 L281.4 205.5 L281.7 203.5 L282.0 204.6 L282.4 204.3 L282.7 204.3 L283.1 202.0 L283.4 203.7 L283.7 203.1 L284.1 203.2 L284.4 202.9 L284.8 200.1 L285.1 203.4 L285.4 203.0 L285.8 199.5 L286.1 201.2 L286.5 199.8 L286.9 200.2 L287.2 202.2 L287.6 201.3 L287.9 203.3 L288.3 200.1 L288.7 198.1 L289.0 199.7 L289.4 195.6 L289.8 202.0 L290.2 199.5 L290.6 199.7 L291.0 199.2 L291.5 197.5 L291.9 198.6 L292.3 197.5 L292.8 197.8 L293.2 199.0 L293.6 196.6 L294.0 200.9 L294.4 196.7 L294.8 199.6 L295.2 197.4 L295.6 196.5 L295.9 199.1 L296.2 198.9 L296.5 198.5 L296.9 199.0 L297.2 198.4 L297.5 200.4 L297.8 199.3 L298.1 200.5 L298.4 202.5 L298.7 199.1 L299.0 200.6 L299.3 200.8 L299.6 201.0 L299.9 200.4 L300.2 202.3 L300.6 203.2 L300.9 203.1 L301.2 201.1 L301.6 204.9 L301.9 205.3 L302.3 204.6 L302.6 203.3 L303.0 203.8 L303.3 208.4 L303.7 208.4 L304.0 206.8 L304.4 204.9 L304.7 208.5 L305.1 207.0 L305.4 209.5 L305.8 206.3 L306.1 208.0 L306.5 207.1 L306.8 208.6 L307.2 206.5 L307.5 208.9 L307.9 206.8 L308.2 205.9 L308.6 207.9 L308.9 207.1 L309.3 203.3 L309.6 206.1 L310.0 206.0 L310.3 205.8 L310.7 208.4 L311.0 204.0 L311.3 204.7 L311.7 201.9 L312.0 201.9 L312.3 203.0 L312.6 203.4 L312.9 202.9 L313.2 203.9 L313.4 203.7 L313.7 203.8 L314.0 201.7 L314.3 202.4 L314.6 200.3 L314.9 201.7 L315.3 201.6 L315.6 199.8 L315.9 195.4 L316.2 199.1 L316.6 203.8 L317.0 199.6 L317.3 198.6 L317.7 199.5 L318.1 200.9 L318.5 199.6 L318.9 198.6 L319.3 196.8 L319.7 198.1 L320.1 196.5 L320.4 198.7 L320.8 200.2 L321.2 199.2 L321.5 196.5 L321.9 195.7 L322.3 194.8 L322.6 197.3 L323.0 197.2 L323.4 197.3 L323.7 196.4 L324.1 194.0 L324.5 192.8 L324.8 196.8 L325.2 194.0 L325.6 197.6 L326.0 192.1 L326.4 193.4 L326.8 193.6 L327.2 195.2 L327.6 195.8 L328.0 194.2 L328.4 195.7 L328.8 193.2 L329.2 194.2 L329.7 193.4 L330.1 194.2 L330.5 194.1 L331.0 195.2 L331.4 199.0 L331.8 193.2 L332.3 194.6 L332.7 195.7 L333.1 195.0 L333.6 196.5 L334.0 193.7 L334.4 195.7 L334.8 194.0 L335.3 195.8 L335.7 195.1 L336.1 195.1 L336.5 194.3 L336.9 192.9 L337.2 193.7 L337.6 195.4 L338.0 194.2 L338.4 195.0 L338.7 192.7 L339.1 194.3 L339.4 194.4 L339.8 191.0 L340.1 193.2 L340.5 194.5 L340.8 191.7 L341.1 193.1 L341.5 191.9 L341.8 192.4 L342.2 191.0 L342.5 190.4 L342.8 190.5 L343.1 190.2 L343.5 189.8 L343.8 189.2 L344.1 190.6 L344.4 188.9 L344.6 188.1 L344.9 188.0 L345.2 188.9 L345.4 186.4 L345.7 188.2 L345.9 188.1 L346.1 188.2 L346.4 186.5 L346.6 185.9 L346.8 186.3 L347.1 185.9 L347.3 186.4 L347.5 185.1 L347.7 184.4 L347.9 183.4 L348.1 183.8 L348.4 183.6 L348.6 184.0 L348.8 182.9 L349.0 183.4 L349.2 182.9 L349.4 181.2 L349.6 180.6 L349.8 180.5 L350.0 180.4 L350.2 179.7 L350.4 180.3 L350.6 179.9 L350.7 179.8 L350.9 178.9 L351.1 178.1 L351.3 178.2 L351.5 177.0 L351.7 177.3 L351.9 176.4 L352.1 177.1 L352.3 174.5 L352.5 176.2 L352.6 175.8 L352.8 174.9 L353.0 174.7 L353.2 174.3 L353.4 174.5 L353.6 174.3 L353.7 173.0 L353.9 173.5 L354.1 171.9 L354.3 172.1 L354.5 171.7 L354.7 170.5 L354.9 170.9 L355.1 170.1 L355.2 170.4 L355.4 169.2 L355.7 168.5 L355.9 168.3 L356.1 168.6 L356.3 168.3 L356.5 168.0 L356.7 167.1 L356.9 167.4 L357.1 166.5 L357.3 166.3 L357.5 166.4 L357.7 165.6 L358.0 164.5 L358.2 165.2 L358.4 164.6 L358.6 164.0 L358.8 164.3 L359.0 163.2 L359.2 163.3 L359.4 162.8 L359.6 163.2 L359.8 161.4 L360.0 161.7 L360.2 161.4 L360.4 161.2 L360.6 160.4 L360.8 159.9 L361.0 160.2 L361.2 159.3 L361.4 159.1 L361.6 158.6 L361.7 158.4 L361.9 157.5 L362.1 157.4 L362.3 157.1 L362.5 156.8 L362.7 156.6 L362.9 156.1 L363.1 155.7 L363.3 155.2 L363.4 155.1 L363.6 154.4 L363.8 154.1 L364.0 153.4 L364.2 153.2 L364.4 153.1 L364.6 152.6 L364.8 151.9 L365.0 151.8 L365.1 151.4 L365.3 150.9 L365.5 150.8 L365.7 150.3 L365.9 150.0 L366.1 149.8 L366.3 149.1 L366.5 149.1 L366.7 148.5 L367.0 148.1 L367.2 148.0 L367.4 147.5 L367.6 147.0 L367.8 146.7 L368.1 146.4 L368.3 145.7 L368.5 145.7 L368.7 145.3 L368.9 144.7 L369.1 144.4 L369.2 144.3 L369.4 143.5 L369.6 143.7 L369.7 142.8 L369.9 142.6 L370.0 141.8 L370.2 141.8 L370.3 141.3 L370.4 141.1 L370.6 140.6 L370.7 140.2 L370.8 140.2 L371.0 139.5 L371.1 138.9 L371.2 138.7 L371.3 137.7 L371.4 137.7 L371.6 137.6 L371.7 136.9 L371.8 136.6 L371.9 136.0 L372.0 135.9 L372.1 135.4 L372.2 134.9 L372.4 134.7 L372.5 134.4 L372.6 133.9 L372.7 133.0 L372.8 133.0 L372.9 132.5 L373.1 131.9 L373.2 131.4 L373.3 131.2 L373.4 130.8 L373.5 130.5 L373.6 130.0 L373.7 129.7 L373.9 129.3 L374.0 128.8 L374.1 128.5 L374.2 127.9 L374.3 127.4 L374.3 127.2 L374.4 127.0 L374.5 126.8 L374.6 125.6 L374.7 125.5 L374.8 125.0 L374.9 124.8 L375.0 124.2 L375.0 123.9 L375.1 123.7 L375.2 123.0 L375.3 122.7 L375.3 122.5 L375.4 122.0 L375.5 121.2 L375.6 121.4 L375.6 120.5 L375.7 120.2 L375.8 119.7 L375.8 119.3 L375.9 118.8 L375.9 118.6 L376.0 118.0 L376.0 117.5 L376.1 117.2 L376.1 116.9 L376.2 116.1 L376.2 116.2 L376.3 115.5 L376.3 115.3 L376.4 115.0 L376.4 114.4 L376.4 114.0 L376.5 113.4 L376.5 113.0 L376.5 112.4 L376.6 112.2 L376.6 111.8 L376.7 111.0 L376.7 111.0 L376.7 110.8 L376.8 110.2 L376.8 109.9 L376.8 109.3 L376.9 108.7 L376.9 108.5 L376.9 108.0 L377.0 107.5 L377.0 107.4 L377.0 106.8 L377.1 106.3 L377.1 106.0 L377.1 105.5 L377.2 105.2 L377.2 105.0 L377.3 104.2 L377.3 103.7 L377.4 103.7 L377.4 103.4 L377.4 102.5 L377.5 102.1 L377.5 101.6 L377.6 101.4 L377.6 101.0 L377.6 100.5 L377.7 100.2 L377.7 99.6 L377.8 99.2 L377.8 98.6 L377.9 98.7 L377.9 98.2 L378.0 97.8 L378.0 97.0 L378.0 97.0 L378.1 96.4 L378.1 96.0 L378.2 95.6 L378.2 95.0 L378.2 94.6 L378.3 94.0 L378.3 93.7 L378.4 93.4 L378.4 92.8 L378.4 92.6 L378.5 92.4 L378.5 91.7 L378.6 91.2 L378.6 90.8 L378.6 90.5 L378.7 90.4 L378.7 89.7 L378.8 89.2 L378.8 88.6 L378.8 88.4 L378.9 88.1 L378.9 87.5 L378.9 87.1 L379.0 86.6 L379.0 86.4 L379.0 86.1 L379.1 85.5 L379.1 85.1 L379.2 84.6 L379.2 84.1 L379.2 83.7 L379.3 83.3 L379.3 83.0 L379.3 82.5 L379.3 82.3 L379.4 81.8 L379.4 81.5 L379.4 81.0 L379.5 80.4 L379.5 80.0 L379.5 79.3 L379.6 79.4 L379.6 78.7 L379.6 78.3 L379.6 78.2 L379.7 77.3 L379.7 77.0 L379.7 76.6 L379.7 76.1 L379.8 75.8 L379.8 75.4 L379.8 75.1 L379.8 74.5 L379.9 74.2 L379.9 73.7 L379.9 73.4 L379.9 73.1 L380.0 72.2 L380.0 72.0 L380.0 71.6 L380.0 70.9 L380.0 70.3 L380.1 70.4 L380.1 69.8 L380.1 69.6 L380.1 69.1 L380.2 68.7 L380.2 68.2 L380.2 67.8 L380.2 67.3 L380.2 66.9 L380.3 66.7 L380.3 66.1 L380.3 65.8 L380.3 65.3 L380.3 64.8 L380.4 64.3 L380.4 64.2 L380.4 63.5 L380.4 63.3 L380.5 62.5 L380.5 62.4 L380.5 62.0 L380.5 61.4 L380.5 60.8 L380.6 60.7 L380.6 60.3 L380.6 59.8 L380.6 59.3 L380.7 59.2 L380.7 58.6 L380.7 58.1 L380.7 57.9 L380.7 57.3 L380.8 56.8 L380.8 56.6 L380.8 56.0 L380.8 55.8 L380.8 55.1 L380.9 54.9 L380.9 54.6 L380.9 54.0 L380.9 53.6 L380.9 53.2 L381.0 52.8 L381.0 52.3 L381.0 51.9 L381.0 51.4 L381.0 51.3 L381.1 50.5 L381.1 50.3 L381.1 49.6 L381.1 49.4 L381.1 49.1 L381.2 48.3 L381.2 48.4 L381.2 47.5 L381.2 47.1 L381.2 46.9 L381.3 46.2 L381.3 46.1 L381.3 45.6 L381.3 44.7 L381.3 44.5 L381.4 44.2 L381.4 44.0 L381.4 43.3 L381.4 42.9 L381.5 42.7 L381.5 42.0 L381.5 41.8 L381.5 41.1 L381.5 41.1 L381.6 40.8 L381.6 39.9 L381.6 39.3 L381.6 39.0 L381.7 39.0 L381.7 38.3 L381.7 38.2 L381.7 37.4 L381.8 37.0 L381.8 36.7 L381.8 36.5 L381.8 35.9 L381.9 35.3 L381.9 35.1 L381.9 34.7 L382.0 34.3 L382.0 33.8 L382.0 33.3 L382.0 33.0 L382.1 32.1 L382.1 32.2 L382.1 31.9 L382.2 31.4 L382.2 30.7 L382.2 30.2 L382.2 30.2 L382.3 29.5 L382.3 29.2 L382.3 28.8 L382.4 28.3 L382.4 27.9 L382.4 27.8 L382.4 27.0 L382.5 27.0 L382.5 26.3 L382.5 25.9 L382.6 25.6 L382.6 25.1"/>
<path d="M388.2 25.2 L388.2 25.5 L388.2 25.7 L388.2 26.5 L388.2 26.7 L388.3 27.0 L388.3 27.7 L388.3 28.0 L388.3 28.4 L388.3 28.8 L388.3 29.3 L388.3 29.9 L388.3 30.0 L388.4 30.3 L388.4 30.8 L388.4 31.4 L388.4 31.7 L388.4 32.0 L388.4 32.7 L388.4 33.1 L388.4 33.4 L388.4 33.9 L388.5 34.1 L388.5 34.6 L388.5 35.0 L388.5 35.3 L388.5 36.0 L388.5 36.3 L388.5 36.7 L388.5 37.2 L388.5 37.6 L388.6 37.9 L388.6 38.4 L388.6 38.8 L388.6 39.5 L388.6 39.4 L388.6 40.1 L388.6 40.7 L388.6 40.8 L388.6 41.2 L388.6 41.7 L388.7 41.9 L388.7 42.9 L388.7 43.0 L388.7 43.3 L388.7 43.8 L388.7 44.4 L388.7 44.7 L388.7 45.0 L388.7 45.7 L388.7 45.9 L388.7 46.4 L388.8 46.9 L388.8 47.2 L388.8 47.7 L388.8 48.0 L388.8 49.0 L388.8 48.9 L388.8 49.5 L388.8 49.7 L388.8 50.0 L388.8 50.6 L388.8 51.0 L388.8 51.4 L388.9 51.9 L388.9 52.5 L388.9 53.1 L388.9 53.5 L388.9 53.6 L388.9 54.3 L388.9 54.7 L388.9 54.7 L388.9 55.2 L388.9 55.7 L388.9 56.4 L388.9 56.5 L388.9 56.9 L389.0 57.6 L389.0 57.8 L389.0 58.2 L389.0 58.7 L389.0 59.1 L389.0 59.1 L389.0 59.7 L389.0 60.4 L389.0 60.5 L389.0 61.4 L389.0 61.6 L389.0 62.0 L389.0 62.5 L389.0 62.5 L389.0 63.1 L389.1 63.5 L389.1 64.1 L389.1 64.8 L389.1 64.9 L389.1 65.4 L389.1 65.5 L389.1 66.1 L389.1 66.6 L389.1 67.0 L389.1 67.6 L389.1 68.1 L389.1 68.3 L389.1 68.8 L389.1 68.9 L389.1 69.7 L389.1 70.0 L389.1 70.1 L389.1 70.9 L389.1 71.2 L389.2 71.8 L389.2 72.2 L389.2 72.5 L389.2 73.2 L389.2 73.3 L389.2 73.7 L389.2 74.2 L389.2 74.6 L389.2 74.9 L389.2 75.6 L389.2 76.0 L389.2 76.2 L389.2 76.5 L389.2 77.4 L389.2 77.8 L389.3 78.1 L389.3 78.6 L389.3 79.1 L389.3 79.3 L389.3 80.0 L389.3 80.1 L389.3 80.4 L389.3 81.0 L389.3 81.3 L389.4 81.9 L389.4 82.5 L389.4 82.7 L389.4 83.2 L389.4 83.8 L389.5 84.2 L389.5 84.3 L389.5 84.6 L389.5 85.5 L389.6 85.4 L389.6 85.7 L389.6 86.1 L389.6 87.0 L389.7 87.0 L389.7 87.6 L389.7 88.1 L389.8 88.7 L389.8 88.7 L389.8 89.4 L389.9 89.8 L389.9 90.4 L389.9 90.6 L390.0 91.1 L390.0 91.4 L390.0 92.1 L390.1 92.5 L390.1 92.7 L390.1 93.2 L390.2 93.3 L390.2 94.0 L390.2 94.3 L390.3 94.8 L390.3 95.4 L390.3 96.0 L390.4 96.1 L390.4 96.5 L390.4 96.9 L390.4 97.5 L390.5 97.7 L390.5 98.3 L390.5 98.9 L390.5 99.1 L390.6 99.4 L390.6 100.0 L390.6 100.2 L390.6 100.4 L390.7 101.3 L390.7 101.9 L390.7 102.2 L390.7 102.3 L390.8 102.3 L390.8 103.1 L390.8 103.8 L390.8 104.0 L390.9 104.7 L390.9 104.8 L390.9 105.4 L390.9 105.8 L391.0 106.2 L391.0 106.4 L391.0 107.0 L391.0 107.5 L391.0 107.8 L391.1 108.1 L391.1 108.6 L391.1 109.0 L391.1 109.6 L391.2 110.1 L391.2 110.4 L391.2 110.9 L391.2 111.2 L391.2 111.7 L391.3 111.7 L391.3 112.5 L391.3 113.0 L391.3 113.2 L391.4 113.8 L391.4 113.9 L391.4 114.6 L391.4 115.0 L391.4 115.5 L391.5 115.9 L391.5 116.6 L391.5 116.1 L391.5 116.9 L391.5 117.4 L391.6 118.0 L391.6 118.3 L391.6 118.7 L391.6 118.9 L391.6 119.4 L391.6 119.9 L391.7 120.7 L391.7 120.7 L391.7 121.8 L391.7 121.9 L391.7 122.1 L391.7 122.7 L391.8 123.2 L391.8 123.2 L391.8 123.6 L391.8 124.5 L391.8 124.5 L391.9 125.2 L391.9 125.6 L391.9 125.7 L391.9 126.5 L392.0 126.9 L392.0 127.4 L392.0 127.6 L392.0 128.1 L392.1 128.5 L392.1 128.8 L392.1 129.6 L392.2 129.9 L392.2 130.4 L392.3 130.6 L392.3 131.1 L392.4 131.2 L392.4 131.7 L392.5 132.4 L392.5 132.6 L392.6 133.0 L392.6 133.5 L392.7 133.6 L392.8 134.3 L392.8 134.8 L392.9 135.1 L393.0 135.4 L393.0 136.3 L393.1 136.5 L393.2 136.6 L393.2 137.1 L393.3 137.4 L393.4 137.8 L393.5 138.1 L393.5 138.7 L393.6 139.4 L393.7 139.8 L393.7 140.1 L393.8 140.7 L393.9 141.0 L394.0 141.2 L394.0 141.6 L394.1 142.2 L394.2 142.7 L394.3 143.2 L394.4 143.2 L394.5 143.5 L394.6 144.6 L394.6 144.6 L394.7 145.2 L394.8 145.5 L394.9 145.7 L395.0 146.5 L395.1 146.8 L395.2 147.4 L395.3 147.6 L395.4 147.8 L395.5 148.3 L395.7 148.9 L395.8 149.0 L395.9 149.6 L396.0 150.2 L396.1 150.2 L396.2 150.8 L396.4 151.4 L396.5 152.0 L396.7 152.4 L396.8 152.8 L397.0 153.5 L397.1 153.8 L397.3 154.5 L397.4 154.9 L397.5 155.1 L397.7 155.6 L397.8 155.9 L397.9 155.6 L398.0 155.9 L398.1 155.7 L398.2 155.6 L398.3 155.4 L398.4 155.4 L398.5 154.9 L398.6 154.5 L398.7 154.0 L398.8 153.8 L398.9 153.3 L398.9 152.7 L399.0 152.3 L399.1 151.9 L399.2 151.6 L399.3 150.7 L399.3 150.6 L399.4 149.9 L399.5 149.3 L399.6 148.7 L399.6 148.1 L399.7 147.5 L399.8 147.1 L399.9 146.6 L400.0 146.2 L400.1 146.0 L400.1 145.6 L400.2 144.9 L400.3 144.5 L400.4 143.7 L400.5 142.9 L400.6 142.7 L400.7 142.2 L400.8 141.9 L400.9 141.5 L401.0 140.6 L401.1 140.2 L401.2 139.7 L401.2 139.1 L401.3 138.7 L401.4 138.2 L401.5 138.0 L401.6 137.2 L401.7 136.7 L401.7 136.8 L401.8 136.7 L401.9 136.6 L401.9 136.2 L402.0 136.4 L402.1 136.2 L402.1 136.5 L402.2 136.4 L402.2 136.5 L402.3 137.0 L402.3 136.8 L402.4 137.1 L402.4 137.7 L402.5 137.9 L402.5 137.8 L402.6 138.8 L402.6 138.8 L402.6 139.3 L402.7 139.8 L402.7 140.6 L402.8 140.7 L402.8 141.4 L402.8 141.7 L402.9 142.3 L402.9 142.5 L403.0 143.3 L403.0 143.8 L403.0 144.2 L403.1 145.0 L403.1 145.7 L403.1 146.2 L403.2 146.6 L403.2 147.3 L403.3 147.6 L403.3 148.3 L403.3 148.9 L403.4 149.3 L403.4 149.8 L403.5 150.4 L403.5 150.8 L403.6 151.3 L403.6 151.9 L403.7 151.9 L403.7 152.9 L403.8 153.2 L403.8 153.5 L403.9 153.8 L403.9 154.3 L404.0 154.7 L404.0 155.3 L404.1 155.7 L404.2 156.2 L404.2 156.4 L404.3 156.5 L404.3 157.1 L404.4 157.6 L404.4 158.1 L404.5 158.3 L404.6 158.9 L404.6 159.4 L404.7 159.7 L404.8 160.1 L404.8 161.0 L404.9 161.0 L404.9 161.7 L405.0 161.9 L405.1 162.1 L405.1 162.8 L405.2 163.0 L405.3 163.5 L405.3 163.5 L405.4 164.4 L405.5 164.6 L405.6 165.3 L405.6 165.6 L405.7 165.9 L405.8 166.2 L405.8 166.8 L405.9 167.2 L406.0 167.5 L406.1 168.4 L406.2 168.4 L406.3 169.0 L406.3 169.5 L406.4 169.8 L406.5 170.2 L406.6 170.6 L406.7 171.1 L406.8 171.4 L406.9 171.8 L407.1 172.2 L407.2 172.5 L407.3 172.9 L407.4 173.3 L407.5 173.8 L407.7 174.4 L407.8 174.4 L407.9 174.9 L408.1 175.2 L408.2 175.8 L408.3 176.3 L408.5 176.5 L408.6 177.0 L408.8 176.9 L408.9 177.7 L409.1 178.2 L409.2 178.4 L409.3 178.5 L409.5 179.4 L409.6 179.7 L409.8 180.6 L410.0 180.3 L410.1 180.8 L410.3 181.2 L410.4 181.7 L410.6 181.5 L410.8 182.9 L411.0 183.0 L411.1 183.1 L411.3 183.5 L411.5 184.2 L411.7 184.5 L411.9 184.6 L412.1 185.0 L412.2 185.6 L412.4 185.7 L412.6 186.1 L412.9 186.4 L413.1 186.8 L413.3 186.7 L413.5 187.2 L413.7 188.2 L413.9 188.8 L414.2 188.7 L414.4 187.3 L414.6 188.7 L414.9 190.0 L415.1 191.1 L415.3 191.2 L415.6 190.7 L415.8 191.0 L416.0 191.3 L416.3 192.9 L416.5 192.4 L416.7 192.0 L417.0 193.6 L417.2 193.8 L417.4 192.3 L417.7 193.6 L417.9 195.0 L418.2 195.3 L418.4 194.2 L418.7 195.4 L418.9 196.3 L419.2 196.3 L419.5 195.6 L419.7 196.6 L420.0 197.5 L420.3 197.7 L420.6 196.9 L420.9 199.8 L421.1 198.4 L421.4 197.3 L421.8 198.5 L422.1 196.8 L422.4 198.8 L422.7 199.6 L423.0 202.1 L423.3 200.4 L423.7 200.8 L424.0 201.5 L424.3 201.2 L424.7 200.7 L425.0 202.9 L425.3 202.3 L425.7 203.6 L426.0 203.3 L426.4 201.5 L426.7 202.3 L427.1 202.6 L427.5 202.8 L427.8 203.9 L428.2 203.5 L428.6 203.0 L428.9 205.7 L429.3 205.8 L429.7 204.5 L430.1 203.3 L430.4 204.0 L430.8 203.9 L431.2 203.9 L431.6 203.9 L432.1 205.5 L432.5 205.7 L432.9 206.0 L433.3 204.3 L433.8 206.1 L434.2 208.5 L434.6 206.2 L435.0 205.4 L435.5 209.9 L435.9 206.6 L436.3 205.3 L436.8 207.6 L437.2 205.3 L437.6 206.0 L438.0 208.2 L438.4 205.8 L438.8 204.5 L439.2 208.1 L439.5 208.4 L439.9 205.0 L440.3 206.8 L440.6 209.3 L440.9 208.1 L441.3 209.3 L441.6 207.9 L441.9 207.3 L442.2 207.7 L442.5 208.4 L442.8 209.5 L443.1 205.0 L443.4 206.6 L443.6 210.1 L443.9 211.5 L444.2 209.7 L444.5 211.1 L444.7 209.7 L445.0 209.5 L445.3 212.4 L445.5 212.4 L445.8 212.0 L446.1 211.1 L446.3 213.7 L446.6 213.8 L446.9 213.9 L447.1 214.4 L447.4 214.4 L447.7 216.2 L448.0 216.3 L448.3 218.9 L448.6 218.6 L448.9 216.4 L449.2 214.7 L449.5 218.1 L449.9 216.3 L450.2 220.1 L450.5 215.3 L450.9 217.3 L451.2 220.9 L451.5 218.6 L451.9 220.0 L452.2 220.2 L452.6 218.5 L452.9 221.0 L453.3 218.3 L453.6 219.5 L453.9 223.9 L454.3 220.2 L454.6 221.4 L455.0 219.1 L455.3 223.6 L455.6 219.9 L456.0 220.5 L456.3 221.0 L456.6 220.7 L456.9 220.1 L457.2 222.4 L457.6 222.4 L457.9 223.4 L458.2 222.2 L458.5 222.8 L458.8 224.2 L459.1 225.1 L459.4 223.9 L459.7 225.8 L460.0 225.7 L460.3 228.2 L460.6 227.6 L460.8 227.5 L461.1 228.4 L461.3 225.5 L461.6 228.9 L461.9 226.7 L462.1 225.4 L462.4 226.8 L462.6 223.9 L462.8 228.8 L463.1 225.7 L463.3 222.2 L463.5 222.4 L463.8 223.1 L464.0 222.6 L464.2 223.9 L464.4 224.1 L464.6 223.7 L464.8 222.2 L465.0 218.8"/>
<path d="M53.5 260.8 L53.9 261.1 L54.3 247.6 L54.7 253.2 L55.1 254.0 L55.5 252.1 L55.9 259.6 L56.3 257.0 L56.7 255.2 L57.1 249.7 L57.5 246.1 L57.9 250.6 L58.3 250.9 L58.7 250.5 L59.1 245.3 L59.5 247.6 L59.9 252.0 L60.3 255.1 L60.7 251.4 L61.1 252.5 L61.5 253.0 L61.9 252.9 L62.3 258.0 L62.7 249.6 L63.1 253.6 L63.5 247.2 L63.9 257.4 L64.3 255.4 L64.7 256.3 L65.1 252.6 L65.5 251.5 L65.9 246.7 L66.3 253.1 L66.7 257.2 L67.1 240.3 L67.5 258.6 L67.9 248.0 L68.3 253.2 L68.7 247.8 L69.1 250.4 L69.5 254.2 L69.9 250.0 L70.3 257.9 L70.7 250.7 L71.1 253.0 L71.5 247.8 L71.9 248.2 L72.3 248.5 L72.8 251.9 L73.2 256.4 L73.6 249.8 L74.0 244.5 L74.4 247.0 L74.8 243.9 L75.2 251.1 L75.6 249.2 L76.0 244.7 L76.4 247.4 L76.8 271.0 L77.2 250.4 L77.6 246.2 L78.0 251.3 L78.4 249.8 L78.8 246.0 L79.2 248.7 L79.6 255.2 L80.0 243.4 L80.4 251.6 L80.8 246.9 L81.2 249.8 L81.6 248.8 L82.0 248.2 L82.4 246.4 L82.8 246.8 L83.2 249.3 L83.6 248.3 L84.0 240.8 L84.4 248.1 L84.8 251.2 L85.2 249.5 L85.6 246.7 L86.0 238.8 L86.4 247.9 L86.8 248.0 L87.2 250.9 L87.6 241.6 L88.0 244.2 L88.4 242.9 L88.8 243.8 L89.2 238.2 L89.6 242.8 L90.0 242.8 L90.4 242.8 L90.8 250.1 L91.2 241.6 L91.6 242.2 L92.0 257.2 L92.4 241.5 L92.8 247.9 L93.2 254.3 L93.5 240.8 L93.9 240.4 L94.3 243.4 L94.7 242.0 L95.1 242.9 L95.5 240.3 L95.9 244.5 L96.3 239.7 L96.7 240.3 L97.1 241.2 L97.5 237.1 L97.9 240.4 L98.3 240.7 L98.7 236.0 L99.1 269.0 L99.5 245.5 L99.9 239.9 L100.3 240.2 L100.7 238.3 L101.1 246.1 L101.5 239.5 L101.9 233.7 L102.2 241.7 L102.6 236.3 L103.0 241.2 L103.4 239.0 L103.8 243.8 L104.2 240.9 L104.6 237.7 L105.0 243.8 L105.4 248.2 L105.8 238.8 L106.2 242.2 L106.5 239.6 L106.9 239.7 L107.3 233.8 L107.7 234.5 L108.1 242.4 L108.5 238.0 L108.9 235.6 L109.3 243.2 L109.7 241.1 L110.0 239.3 L110.4 233.5 L110.8 236.5 L111.2 246.9 L111.6 229.7 L112.0 231.0 L112.4 233.4 L112.8 238.9 L113.2 236.3 L113.5 236.9 L113.9 235.9 L114.3 235.4 L114.7 238.7 L115.1 246.0 L115.5 236.1 L115.9 238.5 L116.3 233.0 L116.7 239.1 L117.1 234.3 L117.4 234.4 L117.8 232.4 L118.2 231.6 L118.6 231.8 L119.0 230.4 L119.4 229.3 L119.8 238.4 L120.2 234.1 L120.6 235.6 L121.0 234.0 L121.4 228.3 L121.8 232.4 L122.2 229.6 L122.6 229.7 L123.0 231.6 L123.4 232.2 L123.8 231.9 L124.2 231.8 L124.6 230.6 L125.0 231.3 L125.4 234.5 L125.8 236.9 L126.2 233.9 L126.6 230.2 L127.0 231.7 L127.4 233.0 L127.8 233.0 L128.2 233.4 L128.6 233.3 L129.0 231.0 L129.4 229.1 L129.8 225.7 L130.1 232.2 L130.5 230.8 L130.9 227.0 L131.3 229.0 L131.6 227.8 L132.0 227.5 L132.4 232.6 L132.7 227.3 L133.1 233.8 L133.5 227.4 L133.8 225.8 L134.2 227.6 L134.5 232.7 L134.9 232.2 L135.3 227.8 L135.6 221.1 L136.0 227.5 L136.3 222.7 L136.7 225.4 L137.0 228.5 L137.4 224.6 L137.7 226.6 L138.1 224.2 L138.5 223.7 L138.8 224.9 L139.2 226.4 L139.5 224.0 L139.9 223.5 L140.2 221.3 L140.6 219.5 L140.9 223.2 L141.3 222.3 L141.7 223.0 L142.0 224.4 L142.4 223.7 L142.7 220.0 L143.1 222.1 L143.4 221.9 L143.8 220.6 L144.1 216.4 L144.5 219.1 L144.9 220.2 L145.2 221.7 L145.6 219.4 L145.9 217.1 L146.3 222.1 L146.6 219.2 L147.0 218.2 L147.3 219.8 L147.7 219.9 L148.0 218.2 L148.4 217.1 L148.8 216.9 L149.1 219.1 L149.5 217.2 L149.8 218.1 L150.2 213.7 L150.5 215.9 L150.9 215.9 L151.3 215.5 L151.6 212.8 L152.0 215.2 L152.3 218.4 L152.7 216.0 L153.1 214.4 L153.4 213.8 L153.8 212.5 L154.1 215.0 L154.5 213.1 L154.9 213.5 L155.2 215.5 L155.6 215.3 L155.9 214.6 L156.3 210.5 L156.7 212.2 L157.0 214.9 L157.4 210.7 L157.8 214.5 L158.1 212.2 L158.5 213.6 L158.9 211.2 L159.2 209.7 L159.6 209.8 L160.0 213.6 L160.3 210.5 L160.7 208.8 L161.1 211.9 L161.4 207.9 L161.8 210.0 L162.2 210.6 L162.6 210.3 L162.9 210.3 L163.3 209.3 L163.7 205.3 L164.0 209.4 L164.4 208.7 L164.8 208.3 L165.2 209.2 L165.5 209.4 L165.9 208.3 L166.3 211.1 L166.7 211.0 L167.0 207.9 L167.4 213.1 L167.8 205.1 L168.2 207.8 L168.6 204.0 L169.0 209.1 L169.3 207.9 L169.7 205.5 L170.1 207.1 L170.5 204.7 L170.9 204.2 L171.3 206.8 L171.7 204.0 L172.1 205.7 L172.5 206.1 L172.9 207.4 L173.3 205.4 L173.7 207.1 L174.1 205.9 L174.5 203.4 L174.9 202.7 L175.3 201.2 L175.7 204.1 L176.1 200.0 L176.5 202.7 L177.0 200.4 L177.4 202.9 L177.8 204.7 L178.2 202.4 L178.6 202.9 L179.0 210.4 L179.4 204.0 L179.8 201.6 L180.2 203.9 L180.7 203.7 L181.1 202.5 L181.5 202.6 L181.9 205.7 L182.3 205.1 L182.7 204.8 L183.2 203.3 L183.6 204.0 L184.0 202.9 L184.4 202.4 L184.8 204.2 L185.2 204.2 L185.6 203.4 L186.0 203.6 L186.4 205.9 L186.7 204.9 L187.1 203.5 L187.5 208.8 L187.9 203.5 L188.3 206.5 L188.7 204.9 L189.0 207.6 L189.4 206.9 L189.8 208.6 L190.2 207.1 L190.5 206.2 L190.9 209.9 L191.3 207.7 L191.6 207.7 L192.0 208.0 L192.3 208.4 L192.7 209.3 L193.0 211.8 L193.4 211.7 L193.7 209.9 L194.1 210.7 L194.4 211.2 L194.7 209.0 L195.1 213.0 L195.4 211.1 L195.8 207.5 L196.1 212.2 L196.4 209.7 L196.8 212.2 L197.1 213.1 L197.5 211.5 L197.8 212.9 L198.1 215.3 L198.5 210.2 L198.8 209.4 L199.1 213.1 L199.5 213.2 L199.8 218.1 L200.2 216.2 L200.5 215.5 L200.8 214.4 L201.2 210.8 L201.5 212.3 L201.9 214.6 L202.2 216.0 L202.6 214.9 L202.9 216.3 L203.3 217.8 L203.6 214.9 L203.9 215.8 L204.3 214.8 L204.6 224.8 L205.0 212.9 L205.3 234.8 L205.7 219.7 L206.0 213.4 L206.4 217.3 L206.7 221.2 L207.1 216.7 L207.4 217.7 L207.8 219.2 L208.1 222.7 L208.5 224.1 L208.8 218.4 L209.1 216.9 L209.5 216.7 L209.8 221.6 L210.2 215.5 L210.5 219.7 L210.9 222.9 L211.2 218.6 L211.6 221.1 L211.9 221.8 L212.3 224.4 L212.6 219.1 L212.9 223.1 L213.3 223.0 L213.6 223.7 L214.0 219.4 L214.3 225.3 L214.6 221.8 L215.0 224.1 L215.3 227.5 L215.7 230.3 L216.0 225.3 L216.3 231.4 L216.7 223.9 L217.0 225.1 L217.4 230.3 L217.7 225.4 L218.1 227.9 L218.4 230.2 L218.8 226.1 L219.1 225.4 L219.5 226.8 L219.8 230.7 L220.2 229.2 L220.5 232.0 L220.9 227.6 L221.3 227.2 L221.6 225.4 L222.0 228.0 L222.4 227.3 L222.8 228.9 L223.2 226.5 L223.6 227.4 L224.0 228.7 L224.4 232.8 L224.8 228.9 L225.2 228.3 L225.6 233.4 L226.0 234.5 L226.4 229.5 L226.8 229.8 L227.2 225.0 L227.6 225.9 L228.0 230.9 L228.4 237.4 L228.8 237.2 L229.2 234.1 L229.5 230.1 L229.9 233.5 L230.3 227.2 L230.7 231.9 L231.0 228.5 L231.4 232.6 L231.8 241.4 L232.1 240.2 L232.5 234.0 L232.8 234.8 L233.2 228.1 L233.5 231.7 L233.9 239.3 L234.3 238.3 L234.6 237.5 L235.0 236.4 L235.3 240.7 L235.7 234.5 L236.0 252.0 L236.4 245.5 L236.7 233.1 L237.1 237.8 L237.5 235.2 L237.8 241.9 L238.2 236.0 L238.5 235.9 L238.9 236.2 L239.3 240.4 L239.7 234.1 L240.0 232.5 L240.4 237.6 L240.8 236.9 L241.2 240.2 L241.6 237.2 L242.0 236.4 L242.4 239.8 L242.7 240.4 L243.1 242.7 L243.5 239.4 L243.9 232.8 L244.3 239.3 L244.7 239.6 L245.1 239.3 L245.5 241.7 L246.0 238.9 L246.4 244.1 L246.8 239.2 L247.2 245.3 L247.6 236.5 L248.0 232.1 L248.4 237.2 L248.8 251.0 L249.2 240.0 L249.6 240.7 L250.0 242.1 L250.4 239.8 L250.8 242.4 L251.2 242.0 L251.6 249.1 L252.0 256.0 L252.4 243.0 L252.8 244.7 L253.2 244.5 L253.6 238.6 L254.0 253.0 L254.4 240.5 L254.8 245.7 L255.2 243.5 L255.6 246.4 L256.1 248.4 L256.5 245.5 L256.9 241.8 L257.3 242.5 L257.7 245.8 L258.1 242.3 L258.5 242.5 L258.9 243.6 L259.3 242.8 L259.7 246.0 L260.1 242.5 L260.5 244.5 L261.0 241.6 L261.4 238.0 L261.8 247.1 L262.2 247.7 L262.6 261.8 L263.0 247.1 L263.5 245.4 L263.9 240.1 L264.3 248.5 L264.7 237.2 L265.2 244.1 L265.6 246.9 L266.0 240.4 L266.4 250.1 L266.8 242.3 L267.3 248.9 L267.7 243.7 L268.1 246.8 L268.5 244.2 L269.0 252.9 L269.4 245.9 L269.8 248.1 L270.2 247.0 L270.6 264.0 L271.1 243.6 L271.5 245.9 L271.9 249.2 L272.3 247.7 L272.7 246.4 L273.2 244.0 L273.6 262.4 L274.0 240.8 L274.4 244.3 L274.8 237.0 L275.3 241.8 L275.7 243.7 L276.1 239.1 L276.5 240.0 L277.0 251.7 L277.4 245.8 L277.8 247.9 L278.2 248.1 L278.6 246.1 L279.0 246.6 L279.4 250.7 L279.9 248.2 L280.3 238.1 L280.7 242.9 L281.1 258.0 L281.5 246.4 L281.9 243.5 L282.3 242.0 L282.7 246.0 L283.1 242.3 L283.5 238.7 L283.9 246.7 L284.2 241.0 L284.6 242.9 L285.0 236.2 L285.4 232.7 L285.8 243.3 L286.2 247.4 L286.6 233.1 L287.0 239.3 L287.3 242.9 L287.7 241.5 L288.1 240.8 L288.5 240.4 L288.9 236.9 L289.3 244.2 L289.7 243.6 L290.1 241.4 L290.5 245.8 L290.9 245.9 L291.4 239.6 L291.8 241.6 L292.2 246.6 L292.6 244.3 L293.0 239.3 L293.5 243.4 L293.9 241.7 L294.3 237.4 L294.7 246.9 L295.2 233.1 L295.6 233.7 L296.0 240.0 L296.4 244.3 L296.9 235.7 L297.3 243.5 L297.7 239.7 L298.1 245.5 L298.5 237.8 L299.0 249.6 L299.4 240.6 L299.8 238.0 L300.2 254.5 L300.6 232.2 L301.0 239.9 L301.4 237.5 L301.8 240.3 L302.2 237.2 L302.5 228.7 L302.9 228.9 L303.3 235.6 L303.7 233.3 L304.1 240.5 L304.4 233.5 L304.8 238.6 L305.2 248.3 L305.5 241.9 L305.9 236.7 L306.3 236.8 L306.6 232.4 L307.0 236.9 L307.4 237.7 L307.7 234.8 L308.1 237.4 L308.5 231.3 L308.9 233.9 L309.2 235.8 L309.6 233.2 L310.0 238.2 L310.4 236.1 L310.8 231.8 L311.2 230.7 L311.6 233.6 L312.0 231.2 L312.4 232.1 L312.8 229.7 L313.2 235.7 L313.6 233.7 L314.1 234.0 L314.5 235.6 L314.9 225.6 L315.3 232.9 L315.7 232.0 L316.1 234.8 L316.5 234.2 L317.0 234.1 L317.4 236.5 L317.8 226.5 L318.2 229.0 L318.6 235.9 L319.0 236.5 L319.4 229.5 L319.9 235.3 L320.3 234.4 L320.7 227.6 L321.1 229.8 L321.5 232.5 L321.9 231.2 L322.3 236.6 L322.7 232.9 L323.1 233.7 L323.5 229.0 L324.0 227.3 L324.4 229.0 L324.8 234.6 L325.2 235.7 L325.6 228.1 L326.0 229.9 L326.4 223.2 L326.8 233.6 L327.2 226.4 L327.6 232.2 L328.0 233.1 L328.4 225.9 L328.8 227.0 L329.2 231.1 L329.6 232.7 L330.0 227.5 L330.4 226.0 L330.7 229.5 L331.1 231.7 L331.5 225.4 L331.8 226.1 L332.2 230.8 L332.6 228.2 L332.9 225.4 L333.3 227.3 L333.6 228.2 L334.0 229.3 L334.3 227.3 L334.7 226.3 L335.0 222.0 L335.4 227.1 L335.7 226.8 L336.1 225.8 L336.4 225.1 L336.8 225.1 L337.1 226.8 L337.4 223.4 L337.8 221.2 L338.1 225.8 L338.4 222.6 L338.8 222.6 L339.1 223.9 L339.4 222.1 L339.7 222.2 L340.1 219.7 L340.4 224.7 L340.7 218.7 L341.0 224.1 L341.3 218.4 L341.7 219.3 L342.0 219.6 L342.3 221.9 L342.6 220.3 L342.9 218.7 L343.2 217.0 L343.5 220.9 L343.8 218.8 L344.1 219.2 L344.4 217.8 L344.8 217.0 L345.1 218.7 L345.4 217.8 L345.7 218.9 L346.0 217.0 L346.3 214.1 L346.5 217.3 L346.8 215.8 L347.1 215.1 L347.4 210.4 L347.7 213.5 L348.0 214.8 L348.3 213.3 L348.5 214.2 L348.8 214.4 L349.1 213.2 L349.4 211.6 L349.6 213.2 L349.9 212.7 L350.1 211.6 L350.4 209.2 L350.6 209.7 L350.9 211.9 L351.1 210.3 L351.4 208.1 L351.6 209.7 L351.8 209.6 L352.1 210.0 L352.3 209.4 L352.5 208.9 L352.7 207.3 L352.9 206.0 L353.1 206.8 L353.3 208.5 L353.6 205.1 L353.8 207.2 L354.0 204.4 L354.2 204.2 L354.4 205.3 L354.6 204.0 L354.8 204.2 L355.0 203.0 L355.2 203.8 L355.4 204.1 L355.6 201.6 L355.8 203.1 L356.0 202.6 L356.2 202.6 L356.5 199.5 L356.7 201.9 L356.9 199.8 L357.1 200.2 L357.4 199.7 L357.6 198.9 L357.8 198.7 L358.1 198.5 L358.3 198.8 L358.5 198.9 L358.7 197.8 L359.0 198.2 L359.2 197.4 L359.4 197.7 L359.7 195.7 L359.9 196.3 L360.1 195.9 L360.4 195.6 L360.6 195.9 L360.9 195.3 L361.1 194.6 L361.3 194.6 L361.6 193.6 L361.8 193.4 L362.1 192.8 L362.3 193.4 L362.6 192.9 L362.8 192.8 L363.1 191.5 L363.3 191.3 L363.5 192.3 L363.8 191.2 L364.0 189.7 L364.2 190.3 L364.4 189.8 L364.6 189.1 L364.8 188.8 L364.9 188.1 L365.1 187.9 L365.3 187.4 L365.4 188.0 L365.6 186.8 L365.8 186.2 L365.9 186.5 L366.1 186.2 L366.2 185.3 L366.4 184.9 L366.5 184.8 L366.7 184.2 L366.8 184.5 L367.0 182.5 L367.1 182.2 L367.3 182.3 L367.4 182.4 L367.6 182.1 L367.7 181.3 L367.8 181.1 L368.0 180.6 L368.1 180.4 L368.3 180.5 L368.4 178.8 L368.6 179.7 L368.7 179.0 L368.8 178.2 L369.0 178.0 L369.1 177.5 L369.3 177.2 L369.4 176.8 L369.5 176.5 L369.7 175.7 L369.8 175.6 L369.9 174.9 L370.0 174.6 L370.2 174.5 L370.3 173.8 L370.4 173.6 L370.5 173.2 L370.7 172.7 L370.8 172.0 L370.9 172.0 L371.0 171.5 L371.1 171.6 L371.2 170.4 L371.3 170.5 L371.4 169.8 L371.5 169.4 L371.6 169.4 L371.7 168.6 L371.8 168.4 L371.9 167.8 L372.0 167.2 L372.1 166.9 L372.2 166.5 L372.3 166.1 L372.4 166.2 L372.5 165.5 L372.6 164.6 L372.7 164.9 L372.8 164.2 L372.8 163.9 L372.9 163.6 L373.0 162.7 L373.1 162.5 L373.2 162.0 L373.2 161.6 L373.3 161.2 L373.4 160.8 L373.5 160.7 L373.5 160.2 L373.6 159.6 L373.7 159.4 L373.7 158.2 L373.8 158.3 L373.9 158.0 L373.9 157.6 L374.0 157.4 L374.1 156.7 L374.1 156.5 L374.2 155.8 L374.3 155.8 L374.3 155.0 L374.4 154.5 L374.4 154.3 L374.5 153.9 L374.6 153.1 L374.6 153.1 L374.7 152.4 L374.7 152.1 L374.8 151.1 L374.9 151.2 L374.9 150.4 L375.0 150.6 L375.0 149.8 L375.1 149.5 L375.1 149.1 L375.2 148.5 L375.2 148.3 L375.3 147.6 L375.3 147.5 L375.4 147.3 L375.4 146.9 L375.5 146.6 L375.5 145.8 L375.6 145.2 L375.6 145.1 L375.7 144.9 L375.7 144.0 L375.8 144.0 L375.8 143.3 L375.9 142.3 L375.9 142.5 L375.9 142.5 L376.0 142.0 L376.0 141.5 L376.1 140.9 L376.1 140.0 L376.1 139.5 L376.2 139.3 L376.2 139.0 L376.3 138.5 L376.3 138.1 L376.3 138.0 L376.4 137.8 L376.4 136.7 L376.4 136.4 L376.5 136.2 L376.5 135.7 L376.5 134.8 L376.6 135.6 L376.6 134.7 L376.6 134.2 L376.7 133.3 L376.7 133.3 L376.7 132.6 L376.8 132.5 L376.8 132.1 L376.8 131.6 L376.9 131.3 L376.9 130.6 L376.9 130.4 L377.0 129.4 L377.0 129.7 L377.0 129.0 L377.1 129.2 L377.1 128.3 L377.1 127.3 L377.1 127.7 L377.2 126.8 L377.2 126.3 L377.2 127.3 L377.3 126.9 L377.3 125.7 L377.3 124.8 L377.3 124.5 L377.4 124.1 L377.4 123.5 L377.4 123.1 L377.4 122.7 L377.5 122.3 L377.5 122.2 L377.5 121.1 L377.5 121.2 L377.6 120.8 L377.6 120.6 L377.6 119.8 L377.6 119.3 L377.7 119.0 L377.7 118.5 L377.7 118.0 L377.7 117.6 L377.7 117.5 L377.8 116.7 L377.8 116.3 L377.8 115.9 L377.8 115.5 L377.8 114.9 L377.9 115.0 L377.9 114.4 L377.9 113.9 L377.9 113.3 L377.9 113.3 L377.9 113.4 L378.0 112.2 L378.0 111.9 L378.0 111.4 L378.0 111.2 L378.0 110.4 L378.0 110.0 L378.1 109.8 L378.1 109.3 L378.1 109.0 L378.1 108.7 L378.1 108.4 L378.2 107.9 L378.2 107.2 L378.2 106.8 L378.2 106.3 L378.2 106.2 L378.2 105.5 L378.3 104.9 L378.3 104.5 L378.3 104.5 L378.3 103.7 L378.3 102.9 L378.4 103.2 L378.4 102.7 L378.4 102.4 L378.4 102.0 L378.4 101.5 L378.5 101.0 L378.5 100.5 L378.5 99.9 L378.5 99.2 L378.5 98.8 L378.6 98.9 L378.6 98.6 L378.6 98.0 L378.6 97.4 L378.7 97.3 L378.7 96.7 L378.7 96.3 L378.7 95.8 L378.8 95.2 L378.8 94.8 L378.8 94.7 L378.8 94.6 L378.9 94.2 L378.9 93.3 L378.9 93.1 L379.0 92.5 L379.0 92.2 L379.0 91.8 L379.0 91.5 L379.1 90.6 L379.1 90.8 L379.1 90.0 L379.2 89.4 L379.2 89.7 L379.2 88.6 L379.2 88.3 L379.3 87.8 L379.3 87.8 L379.3 86.5 L379.4 86.7 L379.4 85.9 L379.4 86.2 L379.4 85.9 L379.5 85.2 L379.5 85.7 L379.5 84.4 L379.6 84.2 L379.6 83.4 L379.6 82.8 L379.6 82.8 L379.7 81.8 L379.7 81.6 L379.7 81.2 L379.8 80.8 L379.8 80.6 L379.8 79.9 L379.8 79.3 L379.9 78.8 L379.9 78.7 L379.9 78.4 L379.9 78.1 L380.0 77.6 L380.0 76.7 L380.0 76.7 L380.0 76.0 L380.1 76.0 L380.1 75.3 L380.1 74.9 L380.1 74.4 L380.2 74.3 L380.2 73.6 L380.2 73.8 L380.2 73.1 L380.3 72.1 L380.3 72.0 L380.3 71.8 L380.3 71.3 L380.4 70.9 L380.4 70.4 L380.4 69.5 L380.4 69.1 L380.5 69.2 L380.5 68.5 L380.5 68.2 L380.5 67.9 L380.5 66.9 L380.6 66.5 L380.6 66.6 L380.6 66.0 L380.6 65.6 L380.7 65.5 L380.7 64.8 L380.7 64.4 L380.7 64.1 L380.8 63.2 L380.8 63.5 L380.8 62.8 L380.9 62.2 L380.9 62.2 L380.9 61.3 L380.9 60.9 L381.0 60.4 L381.0 60.2 L381.0 59.6 L381.0 59.4 L381.1 58.8 L381.1 58.6 L381.1 58.2 L381.1 57.8 L381.2 57.4 L381.2 56.9 L381.2 56.3 L381.3 55.6 L381.3 55.7 L381.3 54.9 L381.3 54.8 L381.4 54.3 L381.4 54.0 L381.4 53.5 L381.5 53.3 L381.5 52.5 L381.5 52.3 L381.5 52.1 L381.6 51.6 L381.6 51.2 L381.6 50.5 L381.7 50.1 L381.7 50.1 L381.7 49.4 L381.7 48.9 L381.8 48.7 L381.8 47.9 L381.8 47.6 L381.9 47.7 L381.9 46.8 L381.9 46.7 L382.0 46.0 L382.0 45.7 L382.0 44.9 L382.0 44.7 L382.1 44.3 L382.1 44.0 L382.1 43.5 L382.2 43.0 L382.2 42.7 L382.2 42.6 L382.3 41.8 L382.3 41.2 L382.3 41.2 L382.4 40.8 L382.4 40.1 L382.4 39.9 L382.5 38.8 L382.5 38.9 L382.5 38.4 L382.6 38.5 L382.6 37.6 L382.6 37.6 L382.7 36.7 L382.7 36.6 L382.7 35.8 L382.8 35.2 L382.8 34.9 L382.8 34.9 L382.9 33.9 L382.9 33.8 L382.9 33.6 L383.0 33.0 L383.0 32.7 L383.1 32.2 L383.1 31.8 L383.1 30.9 L383.2 31.2 L383.2 30.5 L383.2 29.9 L383.3 29.5 L383.3 29.2 L383.4 28.9 L383.4 28.1 L383.4 27.7 L383.5 27.2 L383.5 27.3 L383.5 26.5 L383.6 26.3 L383.6 25.6 L383.7 25.4 L383.7 24.9"/>
<path d="M387.0 24.6 L387.0 25.1 L387.0 25.6 L387.1 26.3 L387.1 26.7 L387.1 26.7 L387.1 27.6 L387.1 28.2 L387.1 28.5 L387.2 28.6 L387.2 29.4 L387.2 29.5 L387.2 29.8 L387.2 30.2 L387.2 30.6 L387.3 31.2 L387.3 31.9 L387.3 31.8 L387.3 32.1 L387.3 33.2 L387.3 33.2 L387.4 34.3 L387.4 34.3 L387.4 34.4 L387.4 35.3 L387.4 35.9 L387.4 35.6 L387.5 36.3 L387.5 37.1 L387.5 36.9 L387.5 37.7 L387.5 38.1 L387.5 38.9 L387.6 39.2 L387.6 39.2 L387.6 39.4 L387.6 40.1 L387.6 40.6 L387.6 41.0 L387.7 41.8 L387.7 41.6 L387.7 42.5 L387.7 42.6 L387.7 42.9 L387.7 43.6 L387.7 44.0 L387.8 44.3 L387.8 45.0 L387.8 45.0 L387.8 45.7 L387.8 46.3 L387.8 46.4 L387.8 46.9 L387.9 47.4 L387.9 47.8 L387.9 48.1 L387.9 48.3 L387.9 48.8 L387.9 49.4 L387.9 49.8 L387.9 50.2 L388.0 50.5 L388.0 50.7 L388.0 51.6 L388.0 51.7 L388.0 52.7 L388.0 53.4 L388.0 53.4 L388.1 53.7 L388.1 53.9 L388.1 54.2 L388.1 54.8 L388.1 55.5 L388.1 55.7 L388.2 55.8 L388.2 56.7 L388.2 56.9 L388.2 57.6 L388.2 57.8 L388.2 58.1 L388.2 58.6 L388.3 59.2 L388.3 59.4 L388.3 60.2 L388.3 60.2 L388.3 61.1 L388.3 60.9 L388.4 61.4 L388.4 62.1 L388.4 62.8 L388.4 62.8 L388.4 63.5 L388.5 63.5 L388.5 63.9 L388.5 64.5 L388.5 65.4 L388.5 65.3 L388.6 65.7 L388.6 65.7 L388.6 66.6 L388.6 67.2 L388.6 67.4 L388.7 67.9 L388.7 68.2 L388.7 69.0 L388.7 69.3 L388.7 69.3 L388.8 69.9 L388.8 70.7 L388.8 70.8 L388.8 70.8 L388.8 71.6 L388.9 72.0 L388.9 71.9 L388.9 73.0 L388.9 73.7 L389.0 73.7 L389.0 74.0 L389.0 74.6 L389.0 74.9 L389.0 75.4 L389.1 76.0 L389.1 76.0 L389.1 76.6 L389.1 77.5 L389.2 77.5 L389.2 78.0 L389.2 78.5 L389.2 78.6 L389.3 78.9 L389.3 80.2 L389.3 80.1 L389.3 80.3 L389.4 81.1 L389.4 81.3 L389.4 81.6 L389.4 82.1 L389.5 82.3 L389.5 82.8 L389.5 83.6 L389.5 83.9 L389.6 84.2 L389.6 85.0 L389.6 85.3 L389.6 85.5 L389.7 85.6 L389.7 86.3 L389.7 87.1 L389.8 87.0 L389.8 88.1 L389.8 88.0 L389.8 88.2 L389.9 89.3 L389.9 89.6 L389.9 89.6 L390.0 90.3 L390.0 90.7 L390.0 90.9 L390.0 91.7 L390.1 92.2 L390.1 92.4 L390.1 92.3 L390.2 93.2 L390.2 93.7 L390.2 94.1 L390.2 95.0 L390.3 94.8 L390.3 95.2 L390.3 95.2 L390.4 95.8 L390.4 96.7 L390.4 96.6 L390.4 97.3 L390.5 97.4 L390.5 98.1 L390.5 98.3 L390.5 99.1 L390.6 99.4 L390.6 99.9 L390.6 99.9 L390.7 100.6 L390.7 101.3 L390.7 100.8 L390.7 101.8 L390.8 102.3 L390.8 102.9 L390.8 103.3 L390.8 103.7 L390.9 104.1 L390.9 104.6 L390.9 104.8 L390.9 105.3 L391.0 105.4 L391.0 106.1 L391.0 106.5 L391.1 107.3 L391.1 107.1 L391.1 107.9 L391.1 108.2 L391.2 108.7 L391.2 109.3 L391.2 109.5 L391.2 109.7 L391.3 110.4 L391.3 111.0 L391.3 111.2 L391.4 111.7 L391.4 111.7 L391.4 112.6 L391.4 112.7 L391.5 113.0 L391.5 113.8 L391.5 113.8 L391.6 114.6 L391.6 115.3 L391.6 115.3 L391.6 115.6 L391.7 116.5 L391.7 116.8 L391.7 117.2 L391.8 117.6 L391.8 117.7 L391.8 118.7 L391.9 118.6 L391.9 119.1 L391.9 119.6 L392.0 120.0 L392.0 120.4 L392.0 120.3 L392.0 121.4 L392.1 121.4 L392.1 122.3 L392.1 122.8 L392.2 122.7 L392.2 123.4 L392.3 124.1 L392.3 124.6 L392.3 124.8 L392.4 124.9 L392.4 125.5 L392.4 125.7 L392.5 126.6 L392.5 126.8 L392.6 127.4 L392.6 127.0 L392.6 127.8 L392.7 128.3 L392.7 128.7 L392.8 128.9 L392.8 129.7 L392.9 129.9 L392.9 130.9 L393.0 130.8 L393.0 131.2 L393.1 131.6 L393.1 132.3 L393.2 132.6 L393.3 132.8 L393.3 132.7 L393.4 133.7 L393.4 134.1 L393.5 134.7 L393.5 134.9 L393.6 135.6 L393.7 135.7 L393.7 136.4 L393.8 136.7 L393.9 137.4 L393.9 137.5 L394.0 138.1 L394.1 138.3 L394.1 138.8 L394.2 139.1 L394.3 139.4 L394.3 140.1 L394.4 140.5 L394.5 141.2 L394.6 141.4 L394.6 142.1 L394.7 142.6 L394.8 142.6 L394.9 142.7 L394.9 143.3 L395.0 144.9 L395.1 144.2 L395.2 144.9 L395.3 144.9 L395.4 145.5 L395.5 146.0 L395.6 146.4 L395.7 146.7 L395.8 147.1 L395.9 147.6 L396.0 147.9 L396.1 148.5 L396.2 148.6 L396.3 149.8 L396.4 149.6 L396.5 149.8 L396.6 150.0 L396.7 150.6 L396.8 151.4 L397.0 151.7 L397.1 152.6 L397.2 153.2 L397.3 153.2 L397.5 153.9 L397.6 154.3 L397.7 154.9 L397.9 155.1 L398.0 155.7 L398.1 155.6 L398.2 156.3 L398.4 156.4 L398.5 156.5 L398.6 156.3 L398.7 156.4 L398.8 156.3 L398.9 155.6 L399.0 155.9 L399.0 155.3 L399.1 155.1 L399.2 154.9 L399.3 153.8 L399.4 153.4 L399.5 152.9 L399.6 152.6 L399.7 151.8 L399.7 151.3 L399.8 151.3 L399.9 150.4 L400.0 150.0 L400.1 149.6 L400.1 149.2 L400.2 148.1 L400.3 148.1 L400.4 147.7 L400.5 147.3 L400.6 146.4 L400.6 146.0 L400.7 145.6 L400.8 145.0 L400.9 144.4 L401.0 143.8 L401.1 143.3 L401.2 142.7 L401.2 142.3 L401.3 141.6 L401.4 141.1 L401.5 140.8 L401.6 140.4 L401.6 140.3 L401.7 139.7 L401.8 139.0 L401.8 139.7 L401.9 139.4 L402.0 139.2 L402.0 139.1 L402.1 139.1 L402.1 139.5 L402.2 139.0 L402.2 139.6 L402.3 139.9 L402.3 141.2 L402.4 140.3 L402.4 141.0 L402.5 141.1 L402.5 141.2 L402.6 141.6 L402.6 142.5 L402.6 142.5 L402.7 143.2 L402.7 144.1 L402.8 144.1 L402.8 145.0 L402.8 146.4 L402.9 146.3 L402.9 146.7 L402.9 146.9 L403.0 148.0 L403.0 148.3 L403.1 148.7 L403.1 149.0 L403.1 149.3 L403.2 150.4 L403.2 150.7 L403.2 150.9 L403.3 151.9 L403.3 152.2 L403.3 152.4 L403.4 152.9 L403.4 153.6 L403.4 153.9 L403.5 154.0 L403.5 154.8 L403.5 155.3 L403.6 155.3 L403.6 155.9 L403.6 156.3 L403.7 157.0 L403.7 157.3 L403.7 157.1 L403.7 157.7 L403.8 158.6 L403.8 158.9 L403.8 159.0 L403.8 159.6 L403.9 160.5 L403.9 160.0 L403.9 161.2 L404.0 161.6 L404.0 161.6 L404.0 162.1 L404.0 162.7 L404.1 163.1 L404.1 163.6 L404.1 164.1 L404.2 164.2 L404.2 164.7 L404.2 165.2 L404.2 165.5 L404.3 166.0 L404.3 166.7 L404.3 166.4 L404.4 167.3 L404.4 167.5 L404.5 167.8 L404.5 168.4 L404.5 169.0 L404.6 169.5 L404.6 169.6 L404.7 170.3 L404.7 170.9 L404.8 171.0 L404.8 171.6 L404.9 171.9 L404.9 172.4 L405.0 173.1 L405.0 173.4 L405.1 173.6 L405.1 174.4 L405.2 174.5 L405.2 174.6 L405.3 175.5 L405.3 175.9 L405.4 176.3 L405.5 176.4 L405.5 176.8 L405.6 177.6 L405.6 177.5 L405.7 178.3 L405.8 178.6 L405.8 178.8 L405.9 179.3 L406.0 179.6 L406.0 180.3 L406.1 180.4 L406.2 181.0 L406.2 181.4 L406.3 182.0 L406.4 182.6 L406.4 183.8 L406.5 183.3 L406.6 183.3 L406.6 183.9 L406.7 184.3 L406.8 185.3 L406.8 185.7 L406.9 185.6 L407.0 186.0 L407.1 187.0 L407.1 187.1 L407.2 188.0 L407.3 187.5 L407.4 188.6 L407.5 188.4 L407.6 187.8 L407.7 189.6 L407.8 189.4 L407.9 190.4 L408.0 190.4 L408.1 191.5 L408.3 190.7 L408.4 191.0 L408.5 192.8 L408.7 193.0 L408.9 192.9 L409.1 192.5 L409.3 194.0 L409.4 195.2 L409.6 194.2 L409.9 194.5 L410.1 194.7 L410.3 195.7 L410.5 195.8 L410.7 195.3 L410.9 196.2 L411.2 197.5 L411.4 196.6 L411.6 197.8 L411.8 198.7 L412.0 198.9 L412.2 197.6 L412.5 199.5 L412.7 198.7 L412.9 198.4 L413.1 203.9 L413.4 199.3 L413.6 200.7 L413.8 202.2 L414.1 202.0 L414.3 201.8 L414.6 203.0 L414.8 202.6 L415.1 203.6 L415.3 204.2 L415.6 202.8 L415.8 205.4 L416.1 205.2 L416.3 206.5 L416.6 205.1 L416.8 205.0 L417.1 205.2 L417.4 206.4 L417.6 205.7 L417.9 207.0 L418.2 207.6 L418.5 206.6 L418.7 207.2 L419.0 208.4 L419.3 208.1 L419.6 209.2 L419.8 208.7 L420.1 208.8 L420.4 209.2 L420.6 214.6 L420.9 211.4 L421.2 208.5 L421.4 210.2 L421.7 210.6 L422.0 210.4 L422.2 211.2 L422.5 213.5 L422.8 213.7 L423.0 212.0 L423.3 211.2 L423.6 213.9 L423.8 214.3 L424.1 216.8 L424.4 214.6 L424.6 216.7 L424.9 215.9 L425.2 214.6 L425.4 216.4 L425.7 215.7 L426.0 217.5 L426.3 217.0 L426.5 217.8 L426.8 217.3 L427.1 217.2 L427.4 218.2 L427.7 219.5 L427.9 217.9 L428.2 219.3 L428.5 222.9 L428.8 218.4 L429.1 217.6 L429.4 218.5 L429.7 219.9 L429.9 220.6 L430.2 217.3 L430.5 217.9 L430.8 223.0 L431.1 219.5 L431.3 223.5 L431.6 224.8 L431.9 217.3 L432.2 224.3 L432.5 223.6 L432.7 223.2 L433.0 225.0 L433.3 224.4 L433.6 225.9 L433.9 228.8 L434.2 225.9 L434.6 223.0 L434.9 228.8 L435.2 228.5 L435.6 244.3 L435.9 227.3 L436.3 228.7 L436.7 231.5 L437.1 226.8 L437.5 225.7 L437.8 230.9 L438.2 226.6 L438.6 230.6 L439.0 226.5 L439.4 226.8 L439.8 229.0 L440.2 229.3 L440.6 226.4 L441.0 233.3 L441.4 227.7 L441.8 231.1 L442.1 226.7 L442.5 227.8 L442.9 228.1 L443.2 230.4 L443.5 230.7 L443.9 231.1 L444.2 230.8 L444.6 233.9 L444.9 234.2 L445.2 230.3 L445.5 232.4 L445.9 233.7 L446.2 234.9 L446.5 234.6 L446.8 232.2 L447.1 232.5 L447.5 234.1 L447.8 235.7 L448.1 244.3 L448.5 231.3 L448.8 233.5 L449.1 235.4 L449.5 233.1 L449.8 234.0 L450.2 232.8 L450.6 237.5 L450.9 228.8 L451.3 235.8 L451.7 233.6 L452.1 236.1 L452.6 236.8 L453.0 225.3 L453.4 240.3 L453.9 239.0 L454.3 242.3 L454.8 239.4 L455.2 239.9 L455.7 238.6 L456.1 242.6 L456.5 235.6 L457.0 236.3 L457.4 233.2 L457.8 240.1 L458.2 237.7 L458.6 242.9 L458.9 237.3 L459.2 236.1 L459.6 235.9 L459.9 233.5 L460.2 228.3 L460.5 235.5 L460.7 233.5 L461.0 233.1"/>
<path d="M57.3 288.2 L57.5 287.7 L57.6 288.5 L57.8 287.3 L58.0 286.7 L58.1 286.8 L58.3 286.2 L58.5 285.5 L58.7 285.1 L58.9 284.8 L59.1 284.4 L59.3 283.9 L59.5 283.8 L59.7 284.1 L60.0 282.4 L60.2 283.0 L60.4 282.8 L60.7 282.0 L60.9 281.7 L61.2 282.0 L61.5 280.9 L61.7 281.1 L62.0 280.7 L62.3 280.2 L62.6 279.9 L62.9 279.9 L63.2 279.9 L63.5 278.3 L63.8 279.1 L64.1 278.0 L64.4 279.7 L64.7 277.9 L65.0 277.6 L65.4 276.4 L65.7 277.8 L66.1 276.5 L66.4 276.8 L66.8 276.4 L67.1 276.3 L67.5 275.8 L67.9 275.7 L68.2 275.4 L68.6 275.0 L69.0 275.6 L69.4 275.0 L69.8 275.0 L70.2 274.4 L70.6 274.2 L71.0 274.5 L71.4 273.6 L71.8 274.9 L72.2 274.0 L72.7 273.9 L73.1 273.8 L73.5 274.1 L73.9 274.3 L74.3 274.5 L74.7 273.9 L75.1 273.8 L75.5 274.4 L75.9 274.6 L76.3 274.4 L76.7 275.5 L77.1 274.6 L77.5 274.8 L77.9 275.9 L78.3 275.4 L78.6 275.7 L79.0 275.6 L79.4 275.7 L79.7 276.1 L80.1 275.9 L80.4 277.2 L80.8 277.2 L81.2 278.2 L81.5 277.5 L81.9 277.6 L82.2 278.5 L82.6 278.1 L82.9 279.0 L83.3 278.5 L83.7 278.1 L84.0 279.0 L84.4 279.2 L84.8 279.7 L85.2 279.3 L85.6 279.8 L86.1 279.9 L86.5 279.5 L86.9 279.4 L87.3 279.7 L87.7 279.3 L88.0 280.0 L88.4 280.2 L88.7 279.5 L89.0 279.1 L89.3 279.5 L89.5 279.0 L89.8 278.8 L90.1 277.0 L90.4 278.4 L90.6 277.7 L90.9 276.5 L91.1 276.4 L91.4 276.1 L91.6 275.9 L91.8 275.2 L92.1 275.2 L92.3 274.9 L92.5 275.4 L92.8 273.9 L93.0 273.3 L93.2 273.6 L93.4 272.8 L93.6 272.5 L93.8 272.1 L94.0 271.6 L94.2 271.2 L94.4 270.8 L94.6 270.3 L94.8 270.0 L95.0 270.7 L95.1 269.5 L95.3 268.8 L95.5 268.3 L95.6 268.9 L95.8 267.7 L95.9 267.6 L96.1 266.4 L96.2 265.9 L96.4 266.5 L96.5 265.2 L96.7 265.7 L96.8 265.6 L97.0 264.4 L97.1 264.2 L97.3 263.8 L97.4 263.3 L97.5 263.0 L97.7 262.6 L97.8 262.3 L98.0 262.0 L98.2 261.8 L98.3 261.4 L98.5 260.9 L98.6 260.1 L98.8 260.3 L98.9 260.0 L99.1 259.3 L99.2 258.7 L99.4 259.4 L99.5 257.1 L99.7 257.9 L99.8 257.4 L100.0 257.6 L100.2 257.3 L100.3 256.4 L100.5 255.6 L100.7 255.6 L100.9 254.5 L101.0 254.7 L101.2 253.9 L101.4 254.1 L101.6 252.8 L101.8 253.0 L102.1 252.9 L102.3 252.3 L102.5 251.9 L102.7 251.4 L102.9 251.2 L103.2 251.6 L103.4 250.4 L103.7 249.7 L103.9 249.5 L104.1 249.4 L104.4 249.6 L104.7 248.8 L104.9 249.0 L105.2 248.9 L105.4 247.6 L105.7 247.8 L106.0 247.2 L106.3 247.4 L106.6 247.1 L106.9 246.6 L107.2 245.6 L107.5 245.7 L107.8 245.5 L108.1 245.2 L108.4 244.7 L108.7 244.8 L109.1 244.6 L109.4 244.3 L109.7 243.6 L110.1 243.5 L110.4 243.0 L110.8 242.9 L111.1 243.3 L111.5 242.7 L111.9 242.5 L112.2 242.8 L112.6 241.8 L113.0 241.9 L113.3 241.1 L113.7 241.9 L114.1 241.3 L114.5 241.5 L114.9 241.4 L115.3 240.9 L115.7 241.0 L116.1 240.0 L116.5 240.3 L116.9 239.5 L117.3 240.7 L117.7 240.4 L118.1 240.6 L118.5 240.5 L118.9 240.5 L119.3 239.6 L119.8 239.0 L120.2 239.4 L120.6 240.5 L121.0 239.8 L121.4 240.0 L121.8 239.9 L122.2 239.8 L122.7 239.5 L123.1 240.4 L123.5 240.2 L123.9 239.5 L124.3 240.8 L124.7 240.4 L125.1 240.5 L125.5 240.3 L126.0 239.6 L126.4 240.1 L126.8 241.0 L127.2 240.1 L127.6 240.2 L128.1 241.6 L128.5 240.0 L128.9 241.1 L129.3 241.4 L129.6 242.3 L130.0 242.0 L130.4 241.9 L130.7 241.1 L131.1 241.9 L131.4 241.5 L131.8 242.7 L132.1 242.2 L132.4 243.5 L132.7 243.7 L133.1 243.4 L133.4 244.2 L133.7 244.4 L134.0 244.6 L134.3 244.9 L134.6 245.5 L134.9 245.5 L135.2 245.6 L135.5 246.2 L135.8 246.0 L136.1 247.2 L136.4 247.3 L136.7 246.3 L137.0 247.4 L137.3 247.8 L137.5 248.2 L137.8 248.7 L138.1 249.4 L138.4 249.8 L138.6 248.6 L138.9 250.2 L139.2 249.2 L139.4 250.9 L139.7 251.0 L140.0 250.7 L140.3 251.2 L140.5 251.5 L140.8 252.6 L141.1 252.1 L141.4 252.5 L141.6 253.2 L141.9 254.1 L142.2 253.4 L142.5 254.1 L142.7 253.9 L143.0 255.1 L143.3 254.4 L143.5 255.4 L143.8 255.8 L144.1 255.7 L144.3 256.8 L144.6 257.4 L144.9 256.9 L145.1 257.3 L145.4 257.6 L145.7 259.6 L145.9 258.6 L146.2 258.5 L146.5 258.8 L146.7 258.8 L147.0 259.4 L147.2 259.8 L147.5 261.0 L147.8 260.9 L148.0 259.8 L148.3 260.9 L148.5 262.1 L148.8 262.3 L149.1 261.3 L149.3 262.4 L149.6 263.5 L149.9 262.7 L150.2 263.2 L150.5 263.7 L150.8 263.5 L151.0 264.8 L151.3 264.7 L151.6 265.0 L151.9 265.6 L152.2 266.0 L152.5 265.6 L152.9 265.6 L153.2 266.2 L153.5 265.9 L153.8 266.6 L154.1 268.5 L154.4 267.0 L154.7 267.2 L155.0 268.0 L155.3 268.5 L155.7 268.8 L156.0 269.0 L156.3 268.1 L156.6 269.1 L156.9 268.3 L157.3 270.4 L157.6 270.5 L157.9 271.0 L158.2 269.7 L158.6 269.6 L158.9 271.3 L159.2 270.9 L159.5 271.0 L159.8 271.5 L160.2 271.3 L160.5 271.3 L160.8 273.2 L161.1 273.5 L161.4 274.1 L161.7 274.0 L162.0 274.2 L162.3 274.7 L162.6 274.4 L162.9 275.1 L163.2 275.1 L163.5 273.7 L163.8 276.2 L164.1 277.6 L164.4 277.7 L164.7 276.5 L165.0 277.3 L165.3 277.5 L165.7 279.1 L166.0 279.3 L166.3 277.5 L166.6 277.7 L166.9 278.3 L167.3 278.4 L167.6 280.6 L167.9 277.7 L168.2 278.7 L168.5 278.7 L168.9 279.7 L169.2 281.1 L169.5 279.8 L169.8 281.9 L170.1 283.0 L170.5 281.8 L170.8 283.1 L171.1 282.0 L171.4 282.9 L171.7 282.5 L172.0 284.2 L172.3 283.7 L172.6 284.3 L172.9 284.9 L173.2 285.3 L173.5 283.5 L173.8 285.1 L174.1 284.4 L174.4 285.0 L174.7 285.7 L175.0 286.7 L175.3 286.3 L175.6 286.4 L175.9 288.5 L176.1 287.9 L176.4 285.3 L176.7 288.5 L177.0 287.9 L177.3 289.5 L177.5 290.0 L177.8 291.4 L178.1 289.2 L178.5 290.9 L178.8 289.8 L179.1 289.3 L179.5 288.2 L179.9 290.8 L180.3 292.5 L180.7 290.4 L181.1 292.3 L181.5 291.0 L181.9 292.2 L182.3 290.8 L182.8 292.0 L183.2 289.7 L183.6 292.5 L184.1 294.3 L184.5 293.2 L184.9 290.6 L185.3 288.5 L185.7 291.9 L186.1 289.8 L186.6 291.5 L187.0 293.4 L187.4 287.8 L187.8 298.1 L188.2 291.5 L188.7 293.2 L189.1 292.6 L189.5 295.1 L189.9 292.8 L190.3 293.3 L190.8 288.1 L191.2 292.0 L191.6 291.5 L192.0 292.0 L192.4 294.3 L192.9 289.7 L193.3 286.9 L193.7 296.1 L194.1 293.1 L194.5 291.5 L195.0 295.5 L195.4 294.2 L195.8 293.0 L196.2 293.3 L196.6 294.3 L197.0 290.7 L197.4 293.1 L197.8 297.8 L198.3 294.4 L198.7 294.0 L199.1 298.2 L199.5 294.1 L199.9 297.7 L200.3 294.7 L200.6 293.5 L201.0 295.2 L201.4 295.1 L201.8 291.1 L202.1 299.8 L202.5 296.2 L202.9 300.6 L203.2 293.5 L203.6 294.7 L203.9 292.7 L204.3 295.7 L204.6 297.9 L205.0 301.8 L205.4 295.6 L205.7 296.2 L206.1 299.7 L206.4 298.7 L206.8 296.0 L207.2 296.7 L207.5 296.4 L207.9 301.5 L208.2 297.1 L208.6 298.0 L208.9 302.1 L209.3 297.7 L209.7 302.2 L210.1 295.9 L210.4 298.1 L210.8 303.6 L211.2 301.7 L211.6 297.8 L212.0 297.2 L212.4 296.1 L212.8 301.5 L213.2 300.0 L213.6 301.6 L214.0 300.7 L214.4 308.5 L214.9 304.4 L215.3 296.9 L215.7 301.8 L216.1 297.7 L216.5 301.7 L217.0 300.3 L217.4 301.8 L217.8 300.2 L218.2 295.3 L218.6 302.8 L219.1 296.0 L219.5 298.5 L219.9 299.0 L220.3 301.6 L220.7 297.6 L221.2 300.6 L221.6 301.3 L222.0 306.6 L222.4 299.1 L222.8 301.7 L223.3 302.8 L223.7 300.3 L224.1 301.2 L224.5 303.3 L224.9 298.5 L225.4 291.8 L225.8 299.2 L226.2 300.8 L226.6 301.3 L227.0 301.1 L227.4 303.0 L227.8 299.6 L228.2 297.5 L228.6 295.9 L229.0 295.3 L229.4 302.0 L229.7 297.3 L230.1 296.7 L230.4 303.8 L230.8 295.5 L231.1 302.2 L231.5 296.8 L231.8 298.6 L232.1 298.9 L232.4 301.9 L232.8 300.0 L233.1 304.2 L233.4 299.9 L233.8 307.7 L234.1 301.2 L234.4 297.2 L234.8 300.0 L235.1 300.2 L235.5 304.2 L235.8 299.4 L236.2 307.3 L236.6 301.3 L236.9 302.8 L237.3 307.8 L237.7 298.4 L238.1 311.4 L238.4 302.6 L238.8 299.5 L239.2 310.1 L239.6 305.0 L240.0 300.3 L240.4 307.6 L240.8 310.6 L241.2 310.7 L241.6 307.5 L242.0 302.7 L242.4 304.1 L242.8 308.2 L243.3 307.1 L243.7 304.8 L244.1 310.2 L244.6 301.8 L245.0 310.7 L245.4 302.4 L245.9 304.2 L246.3 305.4 L246.7 308.2 L247.2 309.4 L247.6 300.9 L248.0 302.9 L248.4 303.6 L248.8 305.3 L249.3 303.2 L249.7 302.3 L250.1 310.4 L250.5 307.9 L250.9 305.8 L251.3 308.5 L251.6 304.8 L252.0 300.6 L252.4 299.5 L252.8 306.9 L253.2 304.6 L253.5 304.3 L253.9 301.2 L254.3 304.5 L254.6 304.6 L255.0 307.9 L255.4 307.4 L255.8 301.2 L256.1 308.7 L256.5 305.7 L256.9 307.3 L257.2 301.8 L257.6 305.2 L258.0 296.9 L258.4 305.3 L258.7 299.1 L259.1 302.4 L259.5 298.9 L259.8 300.9 L260.2 301.0 L260.6 296.7 L261.0 301.2 L261.4 303.8 L261.8 301.1 L262.2 304.5 L262.6 308.1 L263.0 301.5 L263.4 305.5 L263.8 301.9 L264.2 297.9 L264.6 304.0 L265.0 298.0 L265.4 302.0 L265.8 309.1 L266.2 300.0 L266.6 298.8 L267.0 301.4 L267.4 304.0 L267.8 305.5 L268.2 301.2 L268.6 301.2 L269.0 305.2 L269.4 303.2 L269.8 306.8 L270.2 301.2 L270.6 308.3 L271.0 304.9 L271.4 304.0 L271.8 299.3 L272.2 303.5 L272.6 304.4 L273.0 308.5 L273.4 305.6 L273.8 302.2 L274.2 301.2 L274.6 308.4 L275.0 302.2 L275.4 311.4 L275.8 306.9 L276.2 304.7 L276.6 303.8 L277.0 310.9 L277.4 306.2 L277.8 307.2 L278.2 300.5 L278.6 307.3 L279.0 303.6 L279.3 299.7 L279.7 306.0 L280.1 306.2 L280.5 302.6 L280.9 315.1 L281.3 302.5 L281.6 303.2 L282.0 306.6 L282.4 306.5 L282.8 306.1 L283.2 304.2 L283.6 309.6 L283.9 302.1 L284.3 298.6 L284.7 300.9 L285.1 303.5 L285.5 304.1 L285.9 309.9 L286.3 303.2 L286.6 301.9 L287.0 301.4 L287.4 300.4 L287.8 305.0 L288.2 298.9 L288.6 306.7 L289.0 299.3 L289.4 300.0 L289.8 302.1 L290.1 296.7 L290.5 302.2 L290.9 301.6 L291.4 305.8 L291.8 303.8 L292.2 293.8 L292.6 302.5 L293.0 298.2 L293.4 314.7 L293.8 298.5 L294.2 307.4 L294.7 299.7 L295.1 301.1 L295.5 303.8 L295.9 306.7 L296.3 299.7 L296.8 301.3 L297.2 301.6 L297.6 301.0 L298.0 300.1 L298.4 297.1 L298.9 299.0 L299.3 298.1 L299.7 297.4 L300.1 298.8 L300.5 300.3 L301.0 298.3 L301.4 299.1 L301.8 303.2 L302.2 302.6 L302.6 297.3 L303.1 294.6 L303.5 308.1 L303.9 299.6 L304.3 305.7 L304.8 300.0 L305.2 305.7 L305.6 301.5 L306.0 299.9 L306.4 298.3 L306.9 299.5 L307.3 297.2 L307.7 300.9 L308.1 299.8 L308.5 301.6 L309.0 301.6 L309.4 296.4 L309.8 300.8 L310.2 299.9 L310.6 303.0 L311.0 304.8 L311.4 298.4 L311.9 293.0 L312.3 299.3 L312.7 299.2 L313.1 296.2 L313.5 300.5 L313.9 298.4 L314.3 301.0 L314.7 294.9 L315.1 299.6 L315.5 298.0 L315.9 297.8 L316.3 301.3 L316.7 296.3 L317.1 296.8 L317.5 300.2 L317.9 293.0 L318.3 299.7 L318.7 295.2 L319.1 290.1 L319.5 301.5 L319.9 302.1 L320.3 297.1 L320.7 293.6 L321.1 291.1 L321.5 297.3 L321.9 300.8 L322.3 291.6 L322.7 295.8 L323.1 300.3 L323.5 297.9 L323.8 295.0 L324.2 301.1 L324.6 291.6 L325.0 296.5 L325.4 297.8 L325.8 291.0 L326.2 293.2 L326.6 293.3 L327.0 301.6 L327.4 293.9 L327.7 293.6 L328.1 292.3 L328.5 300.1 L328.9 298.5 L329.3 291.1 L329.7 291.2 L330.0 294.4 L330.4 293.2 L330.8 293.4 L331.2 290.6 L331.5 287.9 L331.9 292.3 L332.3 289.6 L332.6 297.5 L333.0 291.8 L333.4 291.8 L333.7 291.9 L334.1 289.4 L334.4 291.0 L334.8 288.0 L335.2 290.1 L335.5 290.9 L335.9 289.7 L336.2 283.8 L336.6 292.1 L336.9 287.5 L337.3 290.7 L337.7 288.7 L338.0 288.3 L338.4 289.0 L338.7 286.7 L339.1 287.8 L339.5 286.8 L339.8 288.2 L340.2 288.6 L340.5 285.4 L340.9 285.9 L341.3 285.1 L341.7 289.2 L342.0 284.7 L342.4 285.7 L342.8 285.2 L343.2 284.0 L343.6 286.0 L343.9 284.6 L344.3 286.3 L344.7 283.3 L345.1 284.9 L345.5 287.3 L345.8 285.2 L346.2 283.8 L346.6 284.8 L346.9 281.9 L347.3 283.8 L347.7 283.4 L348.0 283.3 L348.4 283.1 L348.7 283.1 L349.0 281.4 L349.4 281.2 L349.7 280.5 L350.0 281.8 L350.3 279.3 L350.6 280.6 L350.9 279.7 L351.2 280.3 L351.4 281.8 L351.7 279.1 L352.0 280.1 L352.2 280.6 L352.5 277.7 L352.8 278.1 L353.0 278.0 L353.3 276.9 L353.5 276.8 L353.7 276.6 L354.0 276.6 L354.2 275.8 L354.5 276.5 L354.7 275.7 L355.0 275.0 L355.2 274.9 L355.5 273.4 L355.7 273.2 L356.0 273.0 L356.2 273.4 L356.5 273.7 L356.7 272.4 L356.9 271.8 L357.2 271.8 L357.4 271.7 L357.7 270.8 L357.9 270.6 L358.2 270.8 L358.4 270.6 L358.6 269.9 L358.9 269.5 L359.1 269.1 L359.3 269.0 L359.5 267.6 L359.7 268.2 L359.9 267.8 L360.1 267.3 L360.3 266.9 L360.5 266.8 L360.7 266.1 L360.9 266.1 L361.1 265.3 L361.2 265.2 L361.4 265.0 L361.6 264.1 L361.7 264.2 L361.9 263.7 L362.1 263.3 L362.2 263.1 L362.4 262.5 L362.5 261.8 L362.7 261.8 L362.8 261.5 L363.0 260.7 L363.1 260.4 L363.3 260.0 L363.4 259.5 L363.6 259.1 L363.7 259.0 L363.9 258.7 L364.0 257.8 L364.2 257.7 L364.3 257.2 L364.5 257.1 L364.6 256.7 L364.8 256.2 L364.9 256.0 L365.1 255.5 L365.2 255.1 L365.3 254.6 L365.5 254.4 L365.6 253.6 L365.8 253.1 L365.9 253.1 L366.1 252.7 L366.2 252.5 L366.3 251.7 L366.5 251.1 L366.6 251.0 L366.8 250.8 L366.9 250.1 L367.0 249.8 L367.2 249.3 L367.3 248.7 L367.4 248.8 L367.6 248.1 L367.7 248.1 L367.9 247.3 L368.0 246.7 L368.1 246.4 L368.3 246.0 L368.4 245.7 L368.5 245.4 L368.7 244.9 L368.8 244.9 L368.9 243.8 L369.1 243.6 L369.2 243.4 L369.3 243.1 L369.5 242.6 L369.6 242.2 L369.7 241.9 L369.9 241.4 L370.0 241.0 L370.1 240.7 L370.3 240.0 L370.4 239.8 L370.5 239.3 L370.7 239.1 L370.8 238.6 L370.9 238.4 L371.1 237.9 L371.2 238.4 L371.3 236.9 L371.5 236.7 L371.6 235.8 L371.7 236.0 L371.8 235.6 L372.0 235.0 L372.1 234.7 L372.2 234.0 L372.3 233.7 L372.4 233.2 L372.5 233.1 L372.6 232.7 L372.7 232.5 L372.8 231.6 L372.9 231.2 L373.0 231.0 L373.1 230.4 L373.1 230.0 L373.2 229.8 L373.3 229.3 L373.4 228.8 L373.4 228.7 L373.5 228.0 L373.6 227.4 L373.6 227.2 L373.7 226.8 L373.8 226.3 L373.8 226.2 L373.9 225.6 L374.0 225.3 L374.0 224.9 L374.1 224.3 L374.2 223.9 L374.2 223.5 L374.3 223.0 L374.4 222.9 L374.5 222.1 L374.5 221.6 L374.6 221.5 L374.7 221.0 L374.8 220.3 L374.8 220.3 L374.9 219.9 L375.0 219.2 L375.1 218.7 L375.1 218.7 L375.2 219.3 L375.3 217.8 L375.4 217.2 L375.5 217.0 L375.5 216.8 L375.6 216.2 L375.7 215.8 L375.8 215.4 L375.8 214.9 L375.9 214.4 L376.0 214.0 L376.0 213.7 L376.1 213.2 L376.1 212.9 L376.2 212.2 L376.3 211.9 L376.3 211.2 L376.4 211.2 L376.4 210.7 L376.4 210.0 L376.5 209.9 L376.5 209.3 L376.6 209.1 L376.6 208.9 L376.6 208.2 L376.7 207.6 L376.7 207.2 L376.7 206.9 L376.8 206.4 L376.8 206.2 L376.8 205.3 L376.9 205.5 L376.9 204.8 L376.9 204.4 L377.0 204.2 L377.0 203.7 L377.0 202.8 L377.1 202.4 L377.1 202.4 L377.1 201.8 L377.2 201.3 L377.2 201.2 L377.3 200.6 L377.3 200.2 L377.3 199.6 L377.4 199.2 L377.4 198.9 L377.5 198.5 L377.5 198.3 L377.5 197.3 L377.6 197.1 L377.6 196.7 L377.7 196.4 L377.7 195.8 L377.8 195.6 L377.8 195.4 L377.9 194.8 L377.9 194.5 L378.0 193.9 L378.0 193.1 L378.1 193.1 L378.1 192.7 L378.2 192.1 L378.2 191.8 L378.3 191.6 L378.3 191.1 L378.4 190.3 L378.4 189.9 L378.5 189.8 L378.5 189.4 L378.6 188.7 L378.6 188.4 L378.7 188.1 L378.7 187.8 L378.7 187.4 L378.8 187.2 L378.8 186.2 L378.9 185.6 L378.9 185.5 L378.9 185.3 L379.0 184.5 L379.0 184.1 L379.1 183.9 L379.1 183.4 L379.1 183.3 L379.2 182.5 L379.2 182.7 L379.3 181.9 L379.3 181.5 L379.4 180.7 L379.4 180.6 L379.5 180.5 L379.5 179.6 L379.6 179.6 L379.6 179.0 L379.7 178.7 L379.8 178.1 L379.8 177.8 L379.9 176.8 L380.0 176.7 L380.0 176.3 L380.1 176.0 L380.2 175.4 L380.3 174.9 L380.3 174.8 L380.4 174.3 L380.4 173.9 L380.5 173.6 L380.6 173.0 L380.6 172.8 L380.7 172.4 L380.7 171.6 L380.8 171.5 L380.8 170.9 L380.9 170.6 L380.9 170.0 L380.9 170.0 L381.0 169.4 L381.0 168.3 L381.0 168.2 L381.0 167.8 L381.1 167.5 L381.1 167.3 L381.1 166.8 L381.1 166.0 L381.1 165.5 L381.2 165.5 L381.2 165.0 L381.2 164.8 L381.2 164.4 L381.2 163.9 L381.3 163.7 L381.3 163.1 L381.3 162.7 L381.3 162.1 L381.3 161.8 L381.3 161.7 L381.4 160.7 L381.4 160.2 L381.4 159.9 L381.4 159.8 L381.4 159.2 L381.4 158.6 L381.4 158.5 L381.5 157.9 L381.5 157.5 L381.5 156.8 L381.5 156.3 L381.5 156.3 L381.5 155.7 L381.6 155.6 L381.6 155.4 L381.6 154.7 L381.6 153.9 L381.6 153.8 L381.7 153.2 L381.7 153.0 L381.7 152.7 L381.7 152.0 L381.7 151.8 L381.8 151.2 L381.8 150.9 L381.8 150.6 L381.9 150.0 L381.9 149.8 L381.9 149.4 L381.9 148.5 L382.0 148.3 L382.0 147.9 L382.0 147.0 L382.1 146.8 L382.1 146.9 L382.1 146.3 L382.1 145.8 L382.2 145.4 L382.2 145.1 L382.2 144.3 L382.3 144.4 L382.3 143.6 L382.3 143.2 L382.3 142.6 L382.4 142.5 L382.4 141.8 L382.4 141.6 L382.4 141.0 L382.5 141.0 L382.5 140.6 L382.5 139.7 L382.5 139.2 L382.5 138.8 L382.6 138.8 L382.6 137.9 L382.6 137.6 L382.6 137.4 L382.6 137.3 L382.7 136.5 L382.7 136.1 L382.7 135.8 L382.7 134.9 L382.7 134.6 L382.7 134.6 L382.7 134.2 L382.8 133.7 L382.8 133.3 L382.8 132.7 L382.8 132.3 L382.8 132.3 L382.8 131.3 L382.8 131.3 L382.9 130.6 L382.9 129.9 L382.9 129.9 L382.9 129.2 L382.9 129.1 L382.9 128.6 L382.9 128.6 L383.0 127.6 L383.0 126.9 L383.0 127.0 L383.0 126.6 L383.0 126.0 L383.0 125.5 L383.1 125.3 L383.1 124.9 L383.1 124.3 L383.1 124.1 L383.1 123.5 L383.1 123.1 L383.2 122.4 L383.2 122.1 L383.2 122.0 L383.2 121.7 L383.2 121.2 L383.3 120.6 L383.3 120.1 L383.3 119.6 L383.3 119.1 L383.4 118.8 L383.4 118.7 L383.4 118.3 L383.5 117.7 L383.5 117.3 L383.5 116.6 L383.6 116.3 L383.6 116.1 L383.6 115.6 L383.7 115.2 L383.7 114.4 L383.8 114.6 L383.8 113.8 L383.8 113.3 L383.9 113.1 L383.9 111.8 L384.0 112.1 L384.0 112.2 L384.1 111.2 L384.1 111.1 L384.1 110.2 L384.2 109.8 L384.2 109.3 L384.3 109.6 L384.3 108.4 L384.4 108.5 L384.4 107.8 L384.5 107.7 L384.5 106.9 L384.5 106.6 L384.6 106.4 L384.6 105.6 L384.7 105.1 L384.7 105.5 L384.8 104.7 L384.8 104.4 L384.9 103.8 L384.9 103.5 L385.0 103.0 L385.0 102.7 L385.1 101.9 L385.1 101.2 L385.2 101.2 L385.2 101.3 L385.3 100.4"/>
<path d="M385.3 100.7 L385.3 100.9 L385.3 101.5 L385.4 101.4 L385.4 102.3 L385.4 102.3 L385.4 103.0 L385.5 103.5 L385.5 104.2 L385.5 104.3 L385.5 104.6 L385.6 105.3 L385.6 105.7 L385.6 106.0 L385.6 106.3 L385.6 106.9 L385.7 107.0 L385.7 107.7 L385.7 107.9 L385.7 108.7 L385.8 108.7 L385.8 109.6 L385.8 110.1 L385.8 110.2 L385.8 110.3 L385.9 111.1 L385.9 111.4 L385.9 111.9 L385.9 112.4 L385.9 112.8 L385.9 114.0 L386.0 113.2 L386.0 114.0 L386.0 114.2 L386.0 114.9 L386.0 114.6 L386.0 115.4 L386.1 115.9 L386.1 116.1 L386.1 117.0 L386.1 117.5 L386.1 117.9 L386.1 118.1 L386.2 118.4 L386.2 119.3 L386.2 119.3 L386.2 120.2 L386.2 120.4 L386.2 120.6 L386.2 121.4 L386.2 121.8 L386.3 121.5 L386.3 122.4 L386.3 122.7 L386.3 123.2 L386.3 124.0 L386.3 124.3 L386.3 125.0 L386.3 125.1 L386.4 125.3 L386.4 125.6 L386.4 126.3 L386.4 126.7 L386.4 127.0 L386.4 127.3 L386.4 128.0 L386.4 128.3 L386.4 129.1 L386.5 129.0 L386.5 129.7 L386.5 130.0 L386.5 130.9 L386.5 130.8 L386.5 131.1 L386.5 131.7 L386.5 132.0 L386.5 132.8 L386.5 133.1 L386.6 133.4 L386.6 133.8 L386.6 133.7 L386.6 134.3 L386.6 134.9 L386.6 135.2 L386.6 136.0 L386.6 136.7 L386.6 136.6 L386.6 136.9 L386.7 137.6 L386.7 138.3 L386.7 138.3 L386.7 138.6 L386.7 139.3 L386.7 139.3 L386.7 139.8 L386.7 140.5 L386.7 140.6 L386.7 141.3 L386.7 141.7 L386.7 141.9 L386.8 142.7 L386.8 143.5 L386.8 143.5 L386.8 143.7 L386.8 144.2 L386.8 144.8 L386.8 145.0 L386.8 145.4 L386.8 145.8 L386.8 146.4 L386.8 146.8 L386.9 147.2 L386.9 147.8 L386.9 148.2 L386.9 148.8 L386.9 149.0 L386.9 149.4 L386.9 149.8 L386.9 150.1 L386.9 150.8 L387.0 150.6 L387.0 151.6 L387.0 151.7 L387.0 152.3 L387.0 153.0 L387.0 153.4 L387.0 153.9 L387.1 153.3 L387.1 154.6 L387.1 154.7 L387.1 155.5 L387.1 155.5 L387.2 156.2 L387.2 156.3 L387.2 156.8 L387.2 157.0 L387.3 157.7 L387.3 158.0 L387.3 158.5 L387.4 159.4 L387.4 159.2 L387.4 160.1 L387.4 160.2 L387.5 160.6 L387.5 161.1 L387.5 161.4 L387.6 162.5 L387.6 162.1 L387.6 162.7 L387.7 163.2 L387.7 163.9 L387.7 164.2 L387.8 164.6 L387.8 164.8 L387.8 165.3 L387.9 166.0 L387.9 166.4 L387.9 166.5 L388.0 166.5 L388.0 167.6 L388.0 167.9 L388.1 168.3 L388.1 168.4 L388.1 169.2 L388.2 169.6 L388.2 170.2 L388.2 170.9 L388.3 170.8 L388.3 171.2 L388.3 171.6 L388.3 172.1 L388.4 171.9 L388.4 172.8 L388.4 173.2 L388.5 174.1 L388.5 174.3 L388.5 174.4 L388.5 174.8 L388.6 175.2 L388.6 175.5 L388.6 176.3 L388.7 176.8 L388.7 177.0 L388.7 177.0 L388.8 177.9 L388.8 178.5 L388.8 178.7 L388.8 178.9 L388.9 179.5 L388.9 180.5 L388.9 180.5 L389.0 181.0 L389.0 181.1 L389.0 181.7 L389.1 181.8 L389.1 182.6 L389.1 182.5 L389.2 183.0 L389.2 184.2 L389.2 184.1 L389.3 184.8 L389.3 184.9 L389.3 185.6 L389.4 185.6 L389.4 186.0 L389.4 187.0 L389.5 187.3 L389.5 187.0 L389.6 187.7 L389.6 188.4 L389.6 189.2 L389.7 189.2 L389.7 189.6 L389.8 189.7 L389.8 190.8 L389.9 191.1 L389.9 190.9 L389.9 191.8 L390.0 191.5 L390.0 192.5 L390.1 192.8 L390.1 193.4 L390.2 193.5 L390.2 194.3 L390.3 194.3 L390.3 195.0 L390.3 195.3 L390.4 195.7 L390.4 196.6 L390.5 196.7 L390.5 197.5 L390.6 197.5 L390.6 198.1 L390.6 198.7 L390.7 198.8 L390.7 199.1 L390.8 199.4 L390.8 200.0 L390.8 200.7 L390.9 201.0 L390.9 201.3 L391.0 201.8 L391.0 202.4 L391.0 202.8 L391.1 202.8 L391.1 203.2 L391.2 204.3 L391.2 204.3 L391.2 204.9 L391.3 205.0 L391.3 205.2 L391.3 205.8 L391.4 206.6 L391.4 206.7 L391.5 207.5 L391.5 207.8 L391.5 207.8 L391.6 208.3 L391.6 208.9 L391.6 209.7 L391.7 209.9 L391.7 209.6 L391.8 210.7 L391.8 210.9 L391.8 211.5 L391.9 212.0 L391.9 212.0 L392.0 212.9 L392.0 213.0 L392.0 213.3 L392.1 214.0 L392.1 214.1 L392.2 214.5 L392.2 215.0 L392.3 215.7 L392.3 216.3 L392.4 216.3 L392.4 217.3 L392.5 217.2 L392.5 217.8 L392.5 218.2 L392.6 218.5 L392.6 218.7 L392.7 219.4 L392.7 219.6 L392.8 220.0 L392.8 220.4 L392.9 221.1 L393.0 221.3 L393.0 221.9 L393.1 222.1 L393.1 222.4 L393.2 222.9 L393.3 223.8 L393.3 224.1 L393.4 224.4 L393.5 224.9 L393.5 224.9 L393.6 225.8 L393.7 225.6 L393.8 226.3 L393.9 226.7 L394.0 227.1 L394.0 227.2 L394.1 228.3 L394.2 228.0 L394.4 229.1 L394.5 229.4 L394.6 229.8 L394.7 230.0 L394.8 230.4 L394.9 230.7 L395.0 231.7 L395.1 231.6 L395.2 231.9 L395.4 232.8 L395.5 233.4 L395.6 233.0 L395.7 233.8 L395.8 234.3 L396.0 234.5 L396.1 235.0 L396.2 236.0 L396.4 236.3 L396.5 237.1 L396.6 237.0 L396.8 237.6 L396.9 238.1 L397.0 238.7 L397.2 239.2 L397.3 239.4 L397.5 239.3 L397.7 239.8 L397.8 240.6 L398.0 240.1 L398.2 240.3 L398.4 239.9 L398.6 239.8 L398.8 239.5 L399.0 238.3 L399.3 238.3 L399.5 238.4 L399.8 237.4 L400.1 237.0 L400.5 236.8 L400.8 236.6 L401.0 235.9 L401.2 236.6 L401.3 236.5 L401.5 236.8 L401.6 237.2 L401.7 237.6 L401.8 238.4 L401.9 238.7 L402.0 239.3 L402.1 239.7 L402.2 240.2 L402.3 240.6 L402.4 240.6 L402.5 241.6 L402.6 241.5 L402.7 242.3 L402.8 242.7 L402.9 242.7 L403.0 243.4 L403.1 243.7 L403.2 244.3 L403.3 244.4 L403.4 245.3 L403.4 245.5 L403.5 246.2 L403.6 246.1 L403.7 246.5 L403.8 247.2 L403.9 247.2 L404.0 247.8 L404.1 248.7 L404.2 248.6 L404.3 249.2 L404.4 249.2 L404.5 250.2 L404.6 250.1 L404.7 250.5 L404.8 251.3 L404.9 251.3 L405.0 251.5 L405.1 252.2 L405.2 252.9 L405.3 253.2 L405.4 253.8 L405.5 254.3 L405.6 254.7 L405.7 255.3 L405.8 255.4 L405.9 256.1 L406.0 256.0 L406.2 256.9 L406.3 257.2 L406.5 257.6 L406.6 258.7 L406.8 258.2 L407.0 258.7 L407.2 259.1 L407.4 259.5 L407.6 259.8 L407.8 260.2 L408.0 260.3 L408.2 260.4 L408.4 260.5 L408.6 261.4 L408.8 261.5 L409.0 261.5 L409.3 263.2 L409.5 263.4 L409.7 263.3 L409.9 263.0 L410.1 264.0 L410.3 264.4 L410.5 264.5 L410.7 265.8 L410.8 266.0 L411.0 265.3 L411.2 266.5 L411.4 265.8 L411.6 267.3 L411.7 267.8 L411.9 268.5 L412.1 266.8 L412.3 269.4 L412.5 268.4 L412.6 269.7 L412.8 269.1 L413.0 270.1 L413.2 270.8 L413.3 270.7 L413.5 271.6 L413.7 271.3 L413.9 271.6 L414.1 271.9 L414.3 271.8 L414.5 273.1 L414.7 273.1 L414.8 274.9 L415.0 273.9 L415.2 275.4 L415.4 273.1 L415.7 275.7 L415.9 275.9 L416.1 276.9 L416.3 277.7 L416.5 277.1 L416.8 278.3 L417.0 277.2 L417.3 277.4 L417.5 278.9 L417.8 278.7 L418.1 279.7 L418.3 278.4 L418.6 279.2 L418.9 280.0 L419.1 280.1 L419.4 281.2 L419.6 283.3 L419.8 281.0 L420.0 282.8 L420.3 281.7 L420.5 281.0 L420.7 281.3 L420.9 282.2 L421.1 281.5 L421.3 283.7 L421.5 284.9 L421.7 282.5 L421.9 284.6 L422.1 284.1 L422.3 287.0 L422.5 287.4 L422.7 286.8 L422.9 286.9 L423.2 286.7 L423.4 287.9 L423.7 289.5 L423.9 288.8 L424.2 288.7 L424.5 290.6 L424.8 289.1 L425.1 289.5 L425.4 288.8 L425.8 297.6 L426.1 289.8 L426.5 289.4 L426.9 291.2 L427.3 288.6 L427.7 288.8 L428.1 290.7 L428.5 289.9 L428.9 290.3 L429.3 291.2 L429.6 290.1 L430.0 291.5 L430.3 294.5 L430.6 292.3 L431.0 292.0 L431.3 293.0 L431.6 291.9 L432.0 293.9 L432.3 294.9 L432.6 292.9 L433.0 293.2 L433.3 294.9 L433.7 291.7 L434.0 296.8 L434.4 293.7 L434.7 292.0 L435.1 295.5 L435.4 293.7 L435.8 293.4 L436.2 294.3 L436.5 296.2 L436.9 297.2 L437.2 293.3 L437.6 296.8 L437.9 295.3 L438.3 296.8 L438.7 298.6 L439.0 298.3 L439.4 300.2 L439.7 296.4 L440.1 298.5 L440.4 299.5 L440.8 297.7 L441.1 297.5 L441.5 296.3 L441.8 296.7 L442.2 303.6 L442.5 298.8 L442.8 300.5 L443.2 301.0 L443.5 300.0 L443.9 301.4 L444.2 302.4 L444.5 300.0 L444.9 304.5 L445.2 302.5 L445.6 301.4 L445.9 302.0 L446.3 305.6 L446.6 306.8 L446.9 302.0 L447.3 304.6 L447.6 302.4 L448.0 301.5 L448.3 304.2 L448.7 305.6 L449.0 309.9 L449.4 302.5 L449.7 302.2 L450.1 299.8 L450.5 301.8 L450.8 307.5 L451.2 307.6 L451.5 311.5 L451.9 309.3 L452.2 306.3 L452.6 308.9 L453.0 311.5 L453.3 302.5 L453.7 301.6 L454.1 308.9 L454.4 309.7 L454.8 302.2 L455.2 307.1 L455.5 304.6 L455.9 310.0 L456.3 313.8 L456.6 312.3 L457.0 313.8 L457.4 308.1 L457.8 307.4 L458.1 313.7 L458.5 308.0 L458.9 310.7 L459.3 312.8 L459.7 306.7 L460.1 302.9 L460.5 315.4 L460.8 310.7 L461.2 314.4 L461.6 313.2 L462.0 305.7 L462.4 312.8 L462.8 309.8 L463.2 311.1 L463.6 310.2 L464.0 312.3"/>
</g>
<g class="labels">
<text x="325.4" y="16.5" font-size="23" textLength="50.8" lengthAdjust="spacingAndGlyphs" class="al">(004)</text>
<text x="381.2" y="16.4" font-size="22" font-weight="bold" textLength="88.6" lengthAdjust="spacingAndGlyphs">reflection</text>
<text x="49.2" y="47.0" font-size="19.2" font-weight="bold" textLength="89.5" lengthAdjust="spacingAndGlyphs">1: w/o imp.</text>
<text x="49.2" y="73.0" font-size="19.2" font-weight="bold" textLength="13.6" lengthAdjust="spacingAndGlyphs">3:</text>
<text x="68.6" y="73.0" font-size="19.2" font-weight="bold" textLength="9.0" lengthAdjust="spacingAndGlyphs">5</text>
<text class="x" transform="translate(80.4 76.3) scale(1 1.14)" font-size="25" textLength="15.0" lengthAdjust="spacingAndGlyphs">×</text>
<text x="99.0" y="73.0" font-size="19.2" font-weight="bold" textLength="21.8" lengthAdjust="spacingAndGlyphs">10</text>
<text x="120.0" y="68.0" font-size="14.5" font-weight="bold" textLength="13.4" lengthAdjust="spacingAndGlyphs">14</text>
<text x="139.2" y="73.0" font-size="19.2" font-weight="bold" textLength="22.6" lengthAdjust="spacingAndGlyphs">cm</text>
<text x="161.60000000000002" y="68.0" font-size="14.5" font-weight="bold" textLength="12.4" lengthAdjust="spacingAndGlyphs">-2</text>
<text x="198.3" y="47.0" font-size="19.2" font-weight="bold" textLength="13.6" lengthAdjust="spacingAndGlyphs">2:</text>
<text x="217.70000000000002" y="47.0" font-size="19.2" font-weight="bold" textLength="9.0" lengthAdjust="spacingAndGlyphs">3</text>
<text class="x" transform="translate(229.5 50.3) scale(1 1.14)" font-size="25" textLength="15.0" lengthAdjust="spacingAndGlyphs">×</text>
<text x="248.10000000000002" y="47.0" font-size="19.2" font-weight="bold" textLength="21.8" lengthAdjust="spacingAndGlyphs">10</text>
<text x="269.1" y="42.0" font-size="14.5" font-weight="bold" textLength="13.4" lengthAdjust="spacingAndGlyphs">14</text>
<text x="288.3" y="47.0" font-size="19.2" font-weight="bold" textLength="22.6" lengthAdjust="spacingAndGlyphs">cm</text>
<text x="310.70000000000005" y="42.0" font-size="14.5" font-weight="bold" textLength="12.4" lengthAdjust="spacingAndGlyphs">-2</text>
<text x="198.3" y="73.0" font-size="19.2" font-weight="bold" textLength="13.6" lengthAdjust="spacingAndGlyphs">4:</text>
<text x="217.70000000000002" y="73.0" font-size="19.2" font-weight="bold" textLength="9.0" lengthAdjust="spacingAndGlyphs">1</text>
<text class="x" transform="translate(229.5 76.3) scale(1 1.14)" font-size="25" textLength="15.0" lengthAdjust="spacingAndGlyphs">×</text>
<text x="248.10000000000002" y="73.0" font-size="19.2" font-weight="bold" textLength="21.8" lengthAdjust="spacingAndGlyphs">10</text>
<text x="269.1" y="68.0" font-size="14.5" font-weight="bold" textLength="13.4" lengthAdjust="spacingAndGlyphs">15</text>
<text x="288.3" y="73.0" font-size="19.2" font-weight="bold" textLength="22.6" lengthAdjust="spacingAndGlyphs">cm</text>
<text x="310.70000000000005" y="68.0" font-size="14.5" font-weight="bold" textLength="12.4" lengthAdjust="spacingAndGlyphs">-2</text>
<text x="137.5" y="130.6" font-size="21" font-weight="bold" textLength="95" lengthAdjust="spacingAndGlyphs">SiGe peak</text>
<text x="397.6" y="64.8" font-size="21.5" font-weight="bold" textLength="67.5" lengthAdjust="spacingAndGlyphs">Si peak</text>
<text x="49.3" y="128.4" font-size="21.5" font-weight="bold">1</text>
<text x="47.6" y="172.2" font-size="21.5" font-weight="bold">2</text>
<text x="50.2" y="240.4" font-size="22.5" class="al">3</text>
<text x="49.8" y="311.7" font-size="23" class="al">4</text>
<text x="30.5" y="353.2" font-size="25" textLength="45.2" lengthAdjust="spacingAndGlyphs" class="tl">33.8</text>
<text x="116.6" y="353.2" font-size="25" textLength="45.2" lengthAdjust="spacingAndGlyphs" class="tl">34.0</text>
<text x="205.1" y="353.2" font-size="25" textLength="45.2" lengthAdjust="spacingAndGlyphs" class="tl">34.2</text>
<text x="289.4" y="353.2" font-size="25" textLength="45.2" lengthAdjust="spacingAndGlyphs" class="tl">34.4</text>
<text x="373.9" y="353.2" font-size="25" textLength="45.2" lengthAdjust="spacingAndGlyphs" class="tl">34.6</text>
<text x="456.2" y="353.2" font-size="25" textLength="45.2" lengthAdjust="spacingAndGlyphs" class="tl">34.8</text>
<text x="186.6" y="387.6" font-size="25.5" textLength="157.5" lengthAdjust="spacingAndGlyphs" class="al">Angle (degree)</text>
<text class="al" transform="translate(19 297.8) rotate(-90)" font-size="25.8" textLength="210.5" lengthAdjust="spacingAndGlyphs">Intensity (arb. units)</text>
</g>
</svg>
</body>
</html>
